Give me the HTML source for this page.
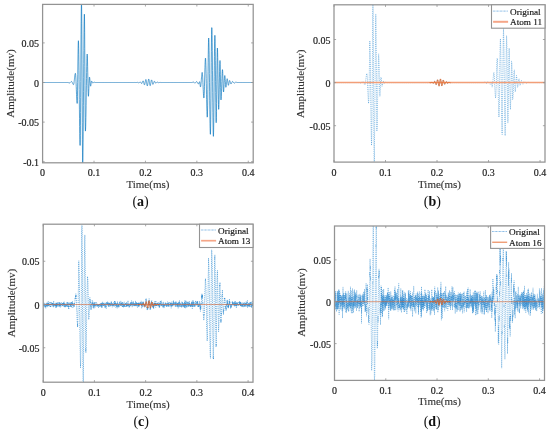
<!DOCTYPE html>
<html><head><meta charset="utf-8"><title>Figure</title>
<style>
html,body{margin:0;padding:0;background:#fff;}
body{width:550px;height:432px;overflow:hidden;}
svg{display:block;}
</style></head>
<body>
<svg width="550" height="432" viewBox="0 0 550 432" font-family="'Liberation Serif','Times New Roman',serif">
<rect width="550" height="432" fill="#fff"/>
<clipPath id="clipa"><rect x="42.6" y="4.4" width="210.60" height="158.40"/></clipPath>
<g clip-path="url(#clipa)"><path d="M42.60 82.50L42.70 82.50L42.81 82.50L42.91 82.50L43.01 82.50L43.11 82.50L43.22 82.50L43.32 82.50L43.42 82.50L43.53 82.50L43.63 82.50L43.73 82.50L43.83 82.50L43.94 82.50L44.04 82.50L44.14 82.50L44.25 82.50L44.35 82.50L44.45 82.50L44.55 82.50L44.66 82.50L44.76 82.50L44.86 82.50L44.97 82.50L45.07 82.50L45.17 82.50L45.27 82.50L45.38 82.50L45.48 82.50L45.58 82.50L45.68 82.50L45.79 82.50L45.89 82.50L45.99 82.50L46.10 82.50L46.20 82.50L46.30 82.50L46.40 82.50L46.51 82.50L46.61 82.50L46.71 82.50L46.82 82.50L46.92 82.50L47.02 82.50L47.12 82.50L47.23 82.50L47.33 82.50L47.43 82.50L47.54 82.50L47.64 82.50L47.74 82.50L47.84 82.50L47.95 82.50L48.05 82.50L48.15 82.50L48.26 82.50L48.36 82.50L48.46 82.50L48.56 82.50L48.67 82.50L48.77 82.50L48.87 82.50L48.98 82.50L49.08 82.50L49.18 82.50L49.28 82.50L49.39 82.50L49.49 82.50L49.59 82.50L49.70 82.50L49.80 82.50L49.90 82.50L50.00 82.50L50.11 82.50L50.21 82.50L50.31 82.50L50.42 82.50L50.52 82.50L50.62 82.50L50.72 82.50L50.83 82.50L50.93 82.50L51.03 82.50L51.14 82.50L51.24 82.50L51.34 82.50L51.44 82.50L51.55 82.50L51.65 82.50L51.75 82.50L51.85 82.50L51.96 82.50L52.06 82.50L52.16 82.50L52.27 82.50L52.37 82.50L52.47 82.50L52.57 82.50L52.68 82.50L52.78 82.50L52.88 82.50L52.99 82.50L53.09 82.50L53.19 82.50L53.29 82.50L53.40 82.50L53.50 82.50L53.60 82.50L53.71 82.50L53.81 82.50L53.91 82.50L54.01 82.50L54.12 82.50L54.22 82.50L54.32 82.50L54.43 82.50L54.53 82.50L54.63 82.50L54.73 82.50L54.84 82.50L54.94 82.50L55.04 82.50L55.15 82.50L55.25 82.50L55.35 82.50L55.45 82.50L55.56 82.50L55.66 82.50L55.76 82.50L55.87 82.50L55.97 82.50L56.07 82.50L56.17 82.50L56.28 82.50L56.38 82.50L56.48 82.50L56.59 82.50L56.69 82.50L56.79 82.50L56.89 82.50L57.00 82.50L57.10 82.50L57.20 82.50L57.30 82.50L57.41 82.50L57.51 82.50L57.61 82.50L57.72 82.50L57.82 82.50L57.92 82.50L58.02 82.50L58.13 82.50L58.23 82.50L58.33 82.50L58.44 82.50L58.54 82.50L58.64 82.50L58.74 82.50L58.85 82.50L58.95 82.50L59.05 82.50L59.16 82.50L59.26 82.50L59.36 82.50L59.46 82.50L59.57 82.50L59.67 82.50L59.77 82.50L59.88 82.50L59.98 82.50L60.08 82.50L60.18 82.50L60.29 82.50L60.39 82.50L60.49 82.50L60.60 82.50L60.70 82.50L60.80 82.50L60.90 82.50L61.01 82.50L61.11 82.50L61.21 82.50L61.32 82.50L61.42 82.50L61.52 82.50L61.62 82.50L61.73 82.50L61.83 82.50L61.93 82.50L62.04 82.50L62.14 82.50L62.24 82.50L62.34 82.50L62.45 82.50L62.55 82.50L62.65 82.50L62.76 82.50L62.86 82.50L62.96 82.50L63.06 82.50L63.17 82.50L63.27 82.50L63.37 82.50L63.47 82.50L63.58 82.50L63.68 82.50L63.78 82.50L63.89 82.50L63.99 82.50L64.09 82.50L64.19 82.50L64.30 82.50L64.40 82.50L64.50 82.50L64.61 82.50L64.71 82.50L64.81 82.50L64.91 82.50L65.02 82.50L65.12 82.50L65.22 82.50L65.33 82.50L65.43 82.50L65.53 82.50L65.63 82.50L65.74 82.50L65.84 82.50L65.94 82.50L66.05 82.50L66.15 82.50L66.25 82.50L66.35 82.50L66.46 82.50L66.56 82.50L66.66 82.50L66.77 82.50L66.87 82.50L66.97 82.50L67.07 82.50L67.18 82.50L67.28 82.50L67.38 82.50L67.49 82.50L67.59 82.50L67.69 82.50L67.79 82.50L67.90 82.51L68.00 82.52L68.10 82.54L68.21 82.57L68.31 82.59L68.41 82.62L68.51 82.66L68.62 82.69L68.72 82.72L68.82 82.76L68.92 82.79L69.03 82.82L69.13 82.84L69.23 82.86L69.34 82.88L69.44 82.89L69.54 82.90L69.64 82.90L69.75 82.88L69.85 82.84L69.95 82.78L70.06 82.71L70.16 82.62L70.26 82.52L70.36 82.41L70.47 82.29L70.57 82.17L70.67 82.06L70.78 81.94L70.88 81.84L70.98 81.74L71.08 81.66L71.19 81.59L71.29 81.54L71.39 81.51L71.50 81.50L71.60 81.52L71.70 81.58L71.80 81.68L71.91 81.81L72.01 81.98L72.11 82.17L72.22 82.39L72.32 82.62L72.42 82.86L72.52 83.11L72.63 83.36L72.73 83.60L72.83 83.83L72.94 84.03L73.04 84.21L73.14 84.36L73.24 84.48L73.35 84.56L73.45 84.60L73.55 84.58L73.66 84.41L73.76 84.08L73.86 83.61L73.96 83.00L74.07 82.28L74.17 81.46L74.27 80.56L74.38 79.63L74.48 78.67L74.58 77.72L74.68 76.80L74.79 75.95L74.89 75.18L74.99 74.52L75.09 73.99L75.20 73.61L75.30 73.37L75.40 73.30L75.51 73.57L75.61 74.32L75.71 75.52L75.81 77.13L75.92 79.11L76.02 81.38L76.12 83.88L76.23 86.53L76.33 89.23L76.43 91.91L76.53 94.47L76.64 96.84L76.74 98.94L76.84 100.70L76.95 102.07L77.05 102.99L77.15 103.45L77.25 103.15L77.36 100.79L77.46 96.36L77.56 90.18L77.67 82.70L77.77 74.46L77.87 66.05L77.97 58.07L78.08 51.10L78.18 45.65L78.28 42.10L78.39 40.71L78.49 41.44L78.59 44.04L78.69 48.40L78.80 54.38L78.90 61.76L79.00 70.27L79.11 79.60L79.21 89.42L79.31 99.38L79.41 109.12L79.52 118.28L79.62 126.55L79.72 133.60L79.83 139.21L79.93 143.16L80.03 145.31L80.13 145.46L80.24 142.22L80.34 135.38L80.44 125.28L80.55 112.47L80.65 97.63L80.75 81.54L80.85 65.05L80.96 49.04L81.06 34.37L81.16 21.80L81.26 12.00L81.37 5.49L81.47 2.63L81.57 4.10L81.68 11.20L81.78 23.47L81.88 40.02L81.98 59.68L82.09 81.01L82.19 102.49L82.29 122.56L82.40 139.78L82.50 152.92L82.60 161.01L82.70 163.49L82.81 161.95L82.91 157.76L83.01 151.10L83.12 142.18L83.22 131.34L83.32 118.96L83.42 105.49L83.53 91.42L83.63 77.25L83.73 63.49L83.84 50.64L83.94 39.16L84.04 29.47L84.14 21.91L84.25 16.75L84.35 14.18L84.45 14.80L84.56 21.04L84.66 32.61L84.76 48.31L84.86 66.52L84.97 85.36L85.07 102.87L85.17 117.24L85.28 126.99L85.38 131.10L85.48 130.78L85.58 129.16L85.69 126.36L85.79 122.48L85.89 117.64L86.00 111.99L86.10 105.72L86.20 99.03L86.30 92.13L86.41 85.25L86.51 78.60L86.61 72.40L86.71 66.85L86.82 62.13L86.92 58.39L87.02 55.75L87.13 54.29L87.23 54.08L87.33 55.32L87.43 57.99L87.54 61.91L87.64 66.78L87.74 72.25L87.85 77.95L87.95 83.44L88.05 88.34L88.15 92.29L88.26 95.01L88.36 96.30L88.46 96.23L88.57 95.29L88.67 93.63L88.77 91.37L88.87 88.72L88.98 85.90L89.08 83.15L89.18 80.72L89.29 78.79L89.39 77.55L89.49 77.10L89.59 77.28L89.70 77.83L89.80 78.71L89.90 79.84L90.01 81.12L90.11 82.45L90.21 83.71L90.31 84.80L90.42 85.62L90.52 86.09L90.62 86.19L90.73 85.99L90.83 85.55L90.93 84.91L91.03 84.15L91.14 83.33L91.24 82.54L91.34 81.87L91.45 81.38L91.55 81.13L91.65 81.11L91.75 81.18L91.86 81.32L91.96 81.52L92.06 81.76L92.17 82.02L92.27 82.29L92.37 82.54L92.47 82.76L92.58 82.94L92.68 83.05L92.78 83.10L92.88 83.09L92.99 83.05L93.09 82.99L93.19 82.91L93.30 82.81L93.40 82.70L93.50 82.59L93.60 82.48L93.71 82.38L93.81 82.30L93.91 82.24L94.02 82.21L94.12 82.20L94.22 82.21L94.32 82.22L94.43 82.25L94.53 82.28L94.63 82.31L94.74 82.35L94.84 82.38L94.94 82.42L95.04 82.45L95.15 82.47L95.25 82.49L95.35 82.50L95.46 82.50L95.56 82.50L95.66 82.50L95.76 82.50L95.87 82.50L95.97 82.50L96.07 82.50L96.18 82.50L96.28 82.50L96.38 82.50L96.48 82.50L96.59 82.50L96.69 82.50L96.79 82.50L96.90 82.50L97.00 82.50L97.10 82.50L97.20 82.50L97.31 82.50L97.41 82.50L97.51 82.50L97.62 82.50L97.72 82.50L97.82 82.50L97.92 82.50L98.03 82.50L98.13 82.50L98.23 82.50L98.33 82.50L98.44 82.50L98.54 82.50L98.64 82.50L98.75 82.50L98.85 82.50L98.95 82.50L99.05 82.50L99.16 82.50L99.26 82.50L99.36 82.50L99.47 82.50L99.57 82.50L99.67 82.50L99.77 82.50L99.88 82.50L99.98 82.50L100.08 82.50L100.19 82.50L100.29 82.50L100.39 82.50L100.49 82.50L100.60 82.50L100.70 82.50L100.80 82.50L100.91 82.50L101.01 82.50L101.11 82.50L101.21 82.50L101.32 82.50L101.42 82.50L101.52 82.50L101.63 82.50L101.73 82.50L101.83 82.50L101.93 82.50L102.04 82.50L102.14 82.50L102.24 82.50L102.35 82.50L102.45 82.50L102.55 82.50L102.65 82.50L102.76 82.50L102.86 82.50L102.96 82.50L103.07 82.50L103.17 82.50L103.27 82.50L103.37 82.50L103.48 82.50L103.58 82.50L103.68 82.50L103.79 82.50L103.89 82.50L103.99 82.50L104.09 82.50L104.20 82.50L104.30 82.50L104.40 82.50L104.50 82.50L104.61 82.50L104.71 82.50L104.81 82.50L104.92 82.50L105.02 82.50L105.12 82.50L105.22 82.50L105.33 82.50L105.43 82.50L105.53 82.50L105.64 82.50L105.74 82.50L105.84 82.50L105.94 82.50L106.05 82.50L106.15 82.50L106.25 82.50L106.36 82.50L106.46 82.50L106.56 82.50L106.66 82.50L106.77 82.50L106.87 82.50L106.97 82.50L107.08 82.50L107.18 82.50L107.28 82.50L107.38 82.50L107.49 82.50L107.59 82.50L107.69 82.50L107.80 82.50L107.90 82.50L108.00 82.50L108.10 82.50L108.21 82.50L108.31 82.50L108.41 82.50L108.52 82.50L108.62 82.50L108.72 82.50L108.82 82.50L108.93 82.50L109.03 82.50L109.13 82.50L109.24 82.50L109.34 82.50L109.44 82.50L109.54 82.50L109.65 82.50L109.75 82.50L109.85 82.50L109.95 82.50L110.06 82.50L110.16 82.50L110.26 82.50L110.37 82.50L110.47 82.50L110.57 82.50L110.67 82.50L110.78 82.50L110.88 82.50L110.98 82.50L111.09 82.50L111.19 82.50L111.29 82.50L111.39 82.50L111.50 82.50L111.60 82.50L111.70 82.50L111.81 82.50L111.91 82.50L112.01 82.50L112.11 82.50L112.22 82.50L112.32 82.50L112.42 82.50L112.53 82.50L112.63 82.50L112.73 82.50L112.83 82.50L112.94 82.50L113.04 82.50L113.14 82.50L113.25 82.50L113.35 82.50L113.45 82.50L113.55 82.50L113.66 82.50L113.76 82.50L113.86 82.50L113.97 82.50L114.07 82.50L114.17 82.50L114.27 82.50L114.38 82.50L114.48 82.50L114.58 82.50L114.69 82.50L114.79 82.50L114.89 82.50L114.99 82.50L115.10 82.50L115.20 82.50L115.30 82.50L115.41 82.50L115.51 82.50L115.61 82.50L115.71 82.50L115.82 82.50L115.92 82.50L116.02 82.50L116.12 82.50L116.23 82.50L116.33 82.50L116.43 82.50L116.54 82.50L116.64 82.50L116.74 82.50L116.84 82.50L116.95 82.50L117.05 82.50L117.15 82.50L117.26 82.50L117.36 82.50L117.46 82.50L117.56 82.50L117.67 82.50L117.77 82.50L117.87 82.50L117.98 82.50L118.08 82.50L118.18 82.50L118.28 82.50L118.39 82.50L118.49 82.50L118.59 82.50L118.70 82.50L118.80 82.50L118.90 82.50L119.00 82.50L119.11 82.50L119.21 82.50L119.31 82.50L119.42 82.50L119.52 82.50L119.62 82.50L119.72 82.50L119.83 82.50L119.93 82.50L120.03 82.50L120.14 82.50L120.24 82.50L120.34 82.50L120.44 82.50L120.55 82.50L120.65 82.50L120.75 82.50L120.86 82.50L120.96 82.50L121.06 82.50L121.16 82.50L121.27 82.50L121.37 82.50L121.47 82.50L121.57 82.50L121.68 82.50L121.78 82.50L121.88 82.50L121.99 82.50L122.09 82.50L122.19 82.50L122.29 82.50L122.40 82.50L122.50 82.50L122.60 82.50L122.71 82.50L122.81 82.50L122.91 82.50L123.01 82.50L123.12 82.50L123.22 82.50L123.32 82.50L123.43 82.50L123.53 82.50L123.63 82.50L123.73 82.50L123.84 82.50L123.94 82.50L124.04 82.50L124.15 82.50L124.25 82.50L124.35 82.50L124.45 82.50L124.56 82.50L124.66 82.50L124.76 82.50L124.87 82.50L124.97 82.50L125.07 82.50L125.17 82.50L125.28 82.50L125.38 82.50L125.48 82.50L125.59 82.50L125.69 82.50L125.79 82.50L125.89 82.50L126.00 82.50L126.10 82.50L126.20 82.50L126.31 82.50L126.41 82.50L126.51 82.50L126.61 82.50L126.72 82.50L126.82 82.50L126.92 82.50L127.03 82.50L127.13 82.50L127.23 82.50L127.33 82.50L127.44 82.50L127.54 82.50L127.64 82.50L127.74 82.50L127.85 82.50L127.95 82.50L128.05 82.50L128.16 82.50L128.26 82.50L128.36 82.50L128.46 82.50L128.57 82.50L128.67 82.50L128.77 82.50L128.88 82.50L128.98 82.50L129.08 82.50L129.18 82.50L129.29 82.50L129.39 82.50L129.49 82.50L129.60 82.50L129.70 82.50L129.80 82.50L129.90 82.50L130.01 82.50L130.11 82.50L130.21 82.50L130.32 82.50L130.42 82.50L130.52 82.50L130.62 82.50L130.73 82.50L130.83 82.50L130.93 82.50L131.04 82.50L131.14 82.50L131.24 82.50L131.34 82.50L131.45 82.50L131.55 82.50L131.65 82.50L131.76 82.50L131.86 82.50L131.96 82.50L132.06 82.50L132.17 82.50L132.27 82.50L132.37 82.50L132.48 82.50L132.58 82.50L132.68 82.50L132.78 82.50L132.89 82.50L132.99 82.51L133.09 82.51L133.20 82.51L133.30 82.50L133.40 82.50L133.50 82.50L133.61 82.50L133.71 82.50L133.81 82.50L133.91 82.49L134.02 82.49L134.12 82.49L134.22 82.49L134.33 82.48L134.43 82.48L134.53 82.48L134.63 82.48L134.74 82.48L134.84 82.49L134.94 82.49L135.05 82.50L135.15 82.50L135.25 82.51L135.35 82.52L135.46 82.52L135.56 82.53L135.66 82.54L135.77 82.54L135.87 82.55L135.97 82.55L136.07 82.55L136.18 82.54L136.28 82.53L136.38 82.52L136.49 82.51L136.59 82.49L136.69 82.47L136.79 82.45L136.90 82.43L137.00 82.42L137.10 82.40L137.21 82.39L137.31 82.38L137.41 82.38L137.51 82.38L137.62 82.39L137.72 82.42L137.82 82.44L137.93 82.48L138.03 82.52L138.13 82.56L138.23 82.61L138.34 82.66L138.44 82.70L138.54 82.74L138.65 82.76L138.75 82.78L138.85 82.78L138.95 82.76L139.06 82.73L139.16 82.68L139.26 82.62L139.36 82.54L139.47 82.45L139.57 82.36L139.67 82.26L139.78 82.17L139.88 82.08L139.98 82.01L140.08 81.96L140.19 81.94L140.29 81.94L140.39 81.98L140.50 82.05L140.60 82.15L140.70 82.27L140.80 82.43L140.91 82.60L141.01 82.78L141.11 82.96L141.22 83.13L141.32 83.28L141.42 83.40L141.52 83.48L141.63 83.51L141.73 83.49L141.83 83.42L141.94 83.29L142.04 83.11L142.14 82.88L142.24 82.61L142.35 82.32L142.45 82.02L142.55 81.72L142.66 81.45L142.76 81.21L142.86 81.03L142.96 80.91L143.07 80.88L143.17 80.92L143.27 81.06L143.38 81.28L143.48 81.57L143.58 81.94L143.68 82.35L143.79 82.79L143.89 83.24L143.99 83.68L144.10 84.07L144.20 84.40L144.30 84.65L144.40 84.79L144.51 84.82L144.61 84.73L144.71 84.52L144.82 84.19L144.92 83.76L145.02 83.25L145.12 82.68L145.23 82.08L145.33 81.48L145.43 80.91L145.53 80.40L145.64 79.99L145.74 79.70L145.84 79.54L145.95 79.54L146.05 79.68L146.15 79.98L146.25 80.41L146.36 80.97L146.46 81.61L146.56 82.31L146.67 83.04L146.77 83.76L146.87 84.42L146.97 84.99L147.08 85.44L147.18 85.75L147.28 85.90L147.39 85.87L147.49 85.67L147.59 85.30L147.69 84.79L147.80 84.16L147.90 83.44L148.00 82.66L148.11 81.88L148.21 81.13L148.31 80.44L148.41 79.86L148.52 79.42L148.62 79.13L148.72 79.02L148.83 79.09L148.93 79.32L149.03 79.72L149.13 80.26L149.24 80.90L149.34 81.62L149.44 82.38L149.55 83.13L149.65 83.84L149.75 84.47L149.85 84.99L149.96 85.37L150.06 85.60L150.16 85.67L150.27 85.58L150.37 85.34L150.47 84.95L150.57 84.45L150.68 83.87L150.78 83.23L150.88 82.58L150.98 81.93L151.09 81.34L151.19 80.82L151.29 80.41L151.40 80.11L151.50 79.95L151.60 79.92L151.70 80.02L151.81 80.24L151.91 80.57L152.01 80.98L152.12 81.45L152.22 81.96L152.32 82.46L152.42 82.95L152.53 83.40L152.63 83.77L152.73 84.07L152.84 84.27L152.94 84.37L153.04 84.37L153.14 84.28L153.25 84.10L153.35 83.85L153.45 83.55L153.56 83.21L153.66 82.86L153.76 82.51L153.86 82.18L153.97 81.88L154.07 81.64L154.17 81.46L154.28 81.33L154.38 81.28L154.48 81.29L154.58 81.36L154.69 81.49L154.79 81.65L154.89 81.85L155.00 82.07L155.10 82.29L155.20 82.50L155.30 82.70L155.41 82.88L155.51 83.02L155.61 83.12L155.72 83.18L155.82 83.21L155.92 83.19L156.02 83.15L156.13 83.07L156.23 82.97L156.33 82.86L156.44 82.73L156.54 82.61L156.64 82.49L156.74 82.39L156.85 82.29L156.95 82.22L157.05 82.17L157.15 82.14L157.26 82.13L157.36 82.14L157.46 82.17L157.57 82.21L157.67 82.27L157.77 82.33L157.87 82.39L157.98 82.45L158.08 82.51L158.18 82.56L158.29 82.60L158.39 82.63L158.49 82.66L158.59 82.67L158.70 82.67L158.80 82.66L158.90 82.65L159.01 82.63L159.11 82.60L159.21 82.58L159.31 82.55L159.42 82.52L159.52 82.50L159.62 82.47L159.73 82.46L159.83 82.44L159.93 82.43L160.03 82.43L160.14 82.43L160.24 82.43L160.34 82.44L160.45 82.45L160.55 82.46L160.65 82.47L160.75 82.48L160.86 82.49L160.96 82.50L161.06 82.51L161.17 82.52L161.27 82.52L161.37 82.52L161.47 82.53L161.58 82.53L161.68 82.52L161.78 82.52L161.89 82.52L161.99 82.51L162.09 82.51L162.19 82.51L162.30 82.50L162.40 82.50L162.50 82.50L162.60 82.49L162.71 82.49L162.81 82.49L162.91 82.49L163.02 82.49L163.12 82.49L163.22 82.49L163.32 82.49L163.43 82.50L163.53 82.50L163.63 82.50L163.74 82.50L163.84 82.50L163.94 82.50L164.04 82.50L164.15 82.50L164.25 82.50L164.35 82.50L164.46 82.50L164.56 82.50L164.66 82.50L164.76 82.50L164.87 82.50L164.97 82.50L165.07 82.50L165.18 82.50L165.28 82.50L165.38 82.50L165.48 82.50L165.59 82.50L165.69 82.50L165.79 82.50L165.90 82.50L166.00 82.50L166.10 82.50L166.20 82.50L166.31 82.50L166.41 82.50L166.51 82.50L166.62 82.50L166.72 82.50L166.82 82.50L166.92 82.50L167.03 82.50L167.13 82.50L167.23 82.50L167.34 82.50L167.44 82.50L167.54 82.50L167.64 82.50L167.75 82.50L167.85 82.50L167.95 82.50L168.06 82.50L168.16 82.50L168.26 82.50L168.36 82.50L168.47 82.50L168.57 82.50L168.67 82.50L168.77 82.50L168.88 82.50L168.98 82.50L169.08 82.50L169.19 82.50L169.29 82.50L169.39 82.50L169.49 82.50L169.60 82.50L169.70 82.50L169.80 82.50L169.91 82.50L170.01 82.50L170.11 82.50L170.21 82.50L170.32 82.50L170.42 82.50L170.52 82.50L170.63 82.50L170.73 82.50L170.83 82.50L170.93 82.50L171.04 82.50L171.14 82.50L171.24 82.50L171.35 82.50L171.45 82.50L171.55 82.50L171.65 82.50L171.76 82.50L171.86 82.50L171.96 82.50L172.07 82.50L172.17 82.50L172.27 82.50L172.37 82.50L172.48 82.50L172.58 82.50L172.68 82.50L172.79 82.50L172.89 82.50L172.99 82.50L173.09 82.50L173.20 82.50L173.30 82.50L173.40 82.50L173.51 82.50L173.61 82.50L173.71 82.50L173.81 82.50L173.92 82.50L174.02 82.50L174.12 82.50L174.22 82.50L174.33 82.50L174.43 82.50L174.53 82.50L174.64 82.50L174.74 82.50L174.84 82.50L174.94 82.50L175.05 82.50L175.15 82.50L175.25 82.50L175.36 82.50L175.46 82.50L175.56 82.50L175.66 82.50L175.77 82.50L175.87 82.50L175.97 82.50L176.08 82.50L176.18 82.50L176.28 82.50L176.38 82.50L176.49 82.50L176.59 82.50L176.69 82.50L176.80 82.50L176.90 82.50L177.00 82.50L177.10 82.50L177.21 82.50L177.31 82.50L177.41 82.50L177.52 82.50L177.62 82.50L177.72 82.50L177.82 82.50L177.93 82.50L178.03 82.50L178.13 82.50L178.24 82.50L178.34 82.50L178.44 82.50L178.54 82.50L178.65 82.50L178.75 82.50L178.85 82.50L178.96 82.50L179.06 82.50L179.16 82.50L179.26 82.50L179.37 82.50L179.47 82.50L179.57 82.50L179.68 82.50L179.78 82.50L179.88 82.50L179.98 82.50L180.09 82.50L180.19 82.50L180.29 82.50L180.39 82.50L180.50 82.50L180.60 82.50L180.70 82.50L180.81 82.50L180.91 82.50L181.01 82.50L181.11 82.50L181.22 82.50L181.32 82.50L181.42 82.50L181.53 82.50L181.63 82.50L181.73 82.50L181.83 82.50L181.94 82.50L182.04 82.50L182.14 82.50L182.25 82.50L182.35 82.50L182.45 82.50L182.55 82.50L182.66 82.50L182.76 82.50L182.86 82.50L182.97 82.50L183.07 82.50L183.17 82.50L183.27 82.50L183.38 82.50L183.48 82.50L183.58 82.50L183.69 82.50L183.79 82.50L183.89 82.50L183.99 82.50L184.10 82.50L184.20 82.50L184.30 82.50L184.41 82.50L184.51 82.50L184.61 82.50L184.71 82.50L184.82 82.50L184.92 82.50L185.02 82.50L185.13 82.50L185.23 82.50L185.33 82.50L185.43 82.50L185.54 82.50L185.64 82.50L185.74 82.50L185.85 82.50L185.95 82.50L186.05 82.50L186.15 82.50L186.26 82.50L186.36 82.50L186.46 82.50L186.56 82.50L186.67 82.50L186.77 82.50L186.87 82.50L186.98 82.50L187.08 82.50L187.18 82.50L187.28 82.50L187.39 82.50L187.49 82.50L187.59 82.50L187.70 82.50L187.80 82.50L187.90 82.50L188.00 82.50L188.11 82.50L188.21 82.50L188.31 82.50L188.42 82.50L188.52 82.50L188.62 82.50L188.72 82.50L188.83 82.50L188.93 82.50L189.03 82.50L189.14 82.50L189.24 82.50L189.34 82.50L189.44 82.50L189.55 82.50L189.65 82.50L189.75 82.50L189.86 82.50L189.96 82.50L190.06 82.50L190.16 82.50L190.27 82.50L190.37 82.50L190.47 82.50L190.58 82.50L190.68 82.50L190.78 82.50L190.88 82.50L190.99 82.50L191.09 82.50L191.19 82.50L191.30 82.50L191.40 82.50L191.50 82.50L191.60 82.50L191.71 82.50L191.81 82.50L191.91 82.49L192.01 82.48L192.12 82.46L192.22 82.43L192.32 82.40L192.43 82.36L192.53 82.32L192.63 82.28L192.73 82.24L192.84 82.21L192.94 82.17L193.04 82.14L193.15 82.12L193.25 82.11L193.35 82.10L193.45 82.10L193.56 82.13L193.66 82.17L193.76 82.23L193.87 82.30L193.97 82.39L194.07 82.49L194.17 82.59L194.28 82.69L194.38 82.78L194.48 82.87L194.59 82.95L194.69 83.02L194.79 83.06L194.89 83.09L195.00 83.10L195.10 83.08L195.20 83.04L195.31 82.97L195.41 82.88L195.51 82.78L195.61 82.65L195.72 82.52L195.82 82.38L195.92 82.23L196.03 82.10L196.13 81.97L196.23 81.85L196.33 81.76L196.44 81.68L196.54 81.63L196.64 81.60L196.75 81.61L196.85 81.65L196.95 81.72L197.05 81.84L197.16 81.98L197.26 82.15L197.36 82.34L197.47 82.54L197.57 82.76L197.67 82.97L197.77 83.18L197.88 83.38L197.98 83.56L198.08 83.71L198.18 83.84L198.29 83.93L198.39 83.98L198.49 84.00L198.60 83.95L198.70 83.80L198.80 83.57L198.90 83.28L199.01 82.95L199.11 82.61L199.21 82.30L199.32 82.03L199.42 81.83L199.52 81.72L199.62 81.72L199.73 82.00L199.83 82.58L199.93 83.37L200.04 84.28L200.14 85.20L200.24 86.00L200.34 86.58L200.45 86.87L200.55 86.85L200.65 86.57L200.76 86.03L200.86 85.26L200.96 84.30L201.06 83.16L201.17 81.90L201.27 80.56L201.37 79.18L201.48 77.82L201.58 76.53L201.68 75.35L201.78 74.33L201.89 73.49L201.99 72.88L202.09 72.51L202.20 72.40L202.30 72.67L202.40 73.38L202.50 74.52L202.61 76.05L202.71 77.91L202.81 80.02L202.92 82.33L203.02 84.74L203.12 87.16L203.22 89.52L203.33 91.71L203.43 93.68L203.53 95.34L203.63 96.63L203.74 97.51L203.84 97.95L203.94 97.88L204.05 97.04L204.15 95.42L204.25 93.11L204.35 90.17L204.46 86.75L204.56 82.97L204.66 79.00L204.77 74.98L204.87 71.09L204.97 67.48L205.07 64.30L205.18 61.68L205.28 59.73L205.38 58.52L205.49 58.10L205.59 58.56L205.69 59.96L205.79 62.25L205.90 65.36L206.00 69.18L206.10 73.60L206.21 78.48L206.31 83.65L206.41 88.95L206.51 94.21L206.62 99.26L206.72 103.94L206.82 108.09L206.93 111.60L207.03 114.33L207.13 116.21L207.23 117.17L207.34 117.05L207.44 115.00L207.54 110.97L207.65 105.17L207.75 97.91L207.85 89.57L207.95 80.61L208.06 71.49L208.16 62.69L208.26 54.69L208.37 47.90L208.47 42.70L208.57 39.34L208.67 38.02L208.78 38.66L208.88 41.01L208.98 45.00L209.09 50.47L209.19 57.23L209.29 65.03L209.39 73.60L209.50 82.63L209.60 91.78L209.70 100.74L209.80 109.17L209.91 116.78L210.01 123.29L210.11 128.46L210.22 132.12L210.32 134.12L210.42 134.34L210.52 131.97L210.63 126.89L210.73 119.39L210.83 109.84L210.94 98.77L211.04 86.76L211.14 74.44L211.24 62.47L211.35 51.48L211.45 42.06L211.55 34.70L211.66 29.80L211.76 27.61L211.86 28.08L211.96 30.77L212.07 35.54L212.17 42.20L212.27 50.47L212.38 60.02L212.48 70.46L212.58 81.36L212.68 92.30L212.79 102.81L212.89 112.47L212.99 120.89L213.10 127.73L213.20 132.72L213.30 135.63L213.40 136.37L213.51 134.81L213.61 130.98L213.71 125.06L213.82 117.33L213.92 108.13L214.02 97.91L214.12 87.12L214.23 76.26L214.33 65.85L214.43 56.35L214.54 48.22L214.64 41.82L214.74 37.44L214.84 35.31L214.95 35.56L215.05 38.44L215.15 43.81L215.25 51.34L215.36 60.56L215.46 70.90L215.56 81.74L215.67 92.41L215.77 102.24L215.87 110.64L215.97 117.09L216.08 121.19L216.18 122.70L216.28 121.51L216.39 117.72L216.49 111.59L216.59 103.58L216.69 94.25L216.80 84.28L216.90 74.39L217.00 65.28L217.11 57.63L217.21 51.97L217.31 48.71L217.41 48.07L217.52 49.52L217.62 52.77L217.72 57.62L217.83 63.76L217.93 70.83L218.03 78.38L218.13 85.96L218.24 93.09L218.34 99.34L218.44 104.32L218.55 107.74L218.65 109.37L218.75 109.20L218.85 107.51L218.96 104.45L219.06 100.18L219.16 94.99L219.27 89.18L219.37 83.11L219.47 77.16L219.57 71.69L219.68 67.04L219.78 63.49L219.88 61.27L219.99 60.50L220.09 61.50L220.19 64.44L220.29 69.02L220.40 74.76L220.50 81.07L220.60 87.29L220.71 92.79L220.81 96.98L220.91 99.45L221.01 99.97L221.12 99.44L221.22 98.22L221.32 96.39L221.42 94.02L221.53 91.23L221.63 88.13L221.73 84.89L221.84 81.64L221.94 78.53L222.04 75.72L222.14 73.32L222.25 71.46L222.35 70.21L222.45 69.64L222.56 69.87L222.66 71.21L222.76 73.54L222.86 76.63L222.97 80.14L223.07 83.73L223.17 87.01L223.28 89.65L223.38 91.37L223.48 92.00L223.58 91.77L223.69 91.04L223.79 89.87L223.89 88.32L224.00 86.49L224.10 84.49L224.20 82.45L224.30 80.49L224.41 78.72L224.51 77.27L224.61 76.21L224.72 75.62L224.82 75.53L224.92 75.94L225.02 76.81L225.13 78.08L225.23 79.64L225.33 81.34L225.44 83.05L225.54 84.62L225.64 85.92L225.74 86.82L225.85 87.26L225.95 87.25L226.05 86.96L226.16 86.42L226.26 85.67L226.36 84.76L226.46 83.75L226.57 82.68L226.67 81.64L226.77 80.67L226.88 79.86L226.98 79.23L227.08 78.84L227.18 78.70L227.29 78.81L227.39 79.16L227.49 79.71L227.59 80.42L227.70 81.25L227.80 82.13L227.90 83.00L228.01 83.80L228.11 84.47L228.21 84.96L228.31 85.24L228.42 85.29L228.52 85.15L228.62 84.85L228.73 84.41L228.83 83.86L228.93 83.24L229.03 82.59L229.14 81.97L229.24 81.42L229.34 80.97L229.45 80.66L229.55 80.51L229.65 80.52L229.75 80.62L229.86 80.81L229.96 81.07L230.06 81.39L230.17 81.75L230.27 82.14L230.37 82.53L230.47 82.90L230.58 83.23L230.68 83.52L230.78 83.73L230.89 83.86L230.99 83.90L231.09 83.87L231.19 83.80L231.30 83.68L231.40 83.52L231.50 83.33L231.61 83.12L231.71 82.88L231.81 82.64L231.91 82.40L232.02 82.17L232.12 81.97L232.22 81.79L232.33 81.65L232.43 81.56L232.53 81.51L232.63 81.50L232.74 81.53L232.84 81.60L232.94 81.69L233.04 81.80L233.15 81.94L233.25 82.09L233.35 82.25L233.46 82.41L233.56 82.57L233.66 82.71L233.76 82.84L233.87 82.95L233.97 83.03L234.07 83.08L234.18 83.10L234.28 83.09L234.38 83.07L234.48 83.02L234.59 82.97L234.69 82.90L234.79 82.82L234.90 82.73L235.00 82.64L235.10 82.55L235.20 82.46L235.31 82.38L235.41 82.32L235.51 82.26L235.62 82.22L235.72 82.20L235.82 82.20L235.92 82.21L236.03 82.22L236.13 82.23L236.23 82.25L236.34 82.28L236.44 82.31L236.54 82.34L236.64 82.37L236.75 82.40L236.85 82.42L236.95 82.45L237.06 82.47L237.16 82.49L237.26 82.50L237.36 82.50L237.47 82.50L237.57 82.50L237.67 82.50L237.78 82.50L237.88 82.50L237.98 82.50L238.08 82.50L238.19 82.50L238.29 82.50L238.39 82.50L238.50 82.50L238.60 82.50L238.70 82.50L238.80 82.50L238.91 82.50L239.01 82.50L239.11 82.50L239.21 82.50L239.32 82.50L239.42 82.50L239.52 82.50L239.63 82.50L239.73 82.50L239.83 82.50L239.93 82.50L240.04 82.50L240.14 82.50L240.24 82.50L240.35 82.50L240.45 82.50L240.55 82.50L240.65 82.50L240.76 82.50L240.86 82.50L240.96 82.50L241.07 82.50L241.17 82.50L241.27 82.50L241.37 82.50L241.48 82.50L241.58 82.50L241.68 82.50L241.79 82.50L241.89 82.50L241.99 82.50L242.09 82.50L242.20 82.50L242.30 82.50L242.40 82.50L242.51 82.50L242.61 82.50L242.71 82.50L242.81 82.50L242.92 82.50L243.02 82.50L243.12 82.50L243.23 82.50L243.33 82.50L243.43 82.50L243.53 82.50L243.64 82.50L243.74 82.50L243.84 82.50L243.95 82.50L244.05 82.50L244.15 82.50L244.25 82.50L244.36 82.50L244.46 82.50L244.56 82.50L244.66 82.50L244.77 82.50L244.87 82.50L244.97 82.50L245.08 82.50L245.18 82.50L245.28 82.50L245.38 82.50L245.49 82.50L245.59 82.50L245.69 82.50L245.80 82.50L245.90 82.50L246.00 82.50L246.10 82.50L246.21 82.50L246.31 82.50L246.41 82.50L246.52 82.50L246.62 82.50L246.72 82.50L246.82 82.50L246.93 82.50L247.03 82.50L247.13 82.50L247.24 82.50L247.34 82.50L247.44 82.50L247.54 82.50L247.65 82.50L247.75 82.50L247.85 82.50L247.96 82.50L248.06 82.50L248.16 82.50L248.26 82.50L248.37 82.50L248.47 82.50L248.57 82.50L248.68 82.50L248.78 82.50L248.88 82.50L248.98 82.50L249.09 82.50L249.19 82.50L249.29 82.50L249.40 82.50L249.50 82.50L249.60 82.50L249.70 82.50L249.81 82.50L249.91 82.50L250.01 82.50L250.12 82.50L250.22 82.50L250.32 82.50L250.42 82.50L250.53 82.50L250.63 82.50L250.73 82.50L250.83 82.50L250.94 82.50L251.04 82.50L251.14 82.50L251.25 82.50L251.35 82.50L251.45 82.50L251.55 82.50L251.66 82.50L251.76 82.50L251.86 82.50L251.97 82.50L252.07 82.50L252.17 82.50L252.27 82.50L252.38 82.50L252.48 82.50L252.58 82.50L252.69 82.50L252.79 82.50L252.89 82.50L252.99 82.50L253.10 82.50" fill="none" stroke="#0072BD" stroke-opacity="0.72" stroke-width="0.9"/></g>
<rect x="42.6" y="4.4" width="210.60" height="158.40" fill="none" stroke="#939393" stroke-width="1.25"/>
<path d="M42.60 162.8V160.70000000000002M42.60 4.4V6.5" stroke="#939393" stroke-width="0.8"/>
<text x="42.60" y="176.30" text-anchor="middle" font-size="10" fill="#1e1e1e" stroke="#1e1e1e" stroke-width="0.18">0</text>
<path d="M94.02 162.8V160.70000000000002M94.02 4.4V6.5" stroke="#939393" stroke-width="0.8"/>
<text x="94.02" y="176.30" text-anchor="middle" font-size="10" fill="#1e1e1e" stroke="#1e1e1e" stroke-width="0.18">0.1</text>
<path d="M145.43 162.8V160.70000000000002M145.43 4.4V6.5" stroke="#939393" stroke-width="0.8"/>
<text x="145.43" y="176.30" text-anchor="middle" font-size="10" fill="#1e1e1e" stroke="#1e1e1e" stroke-width="0.18">0.2</text>
<path d="M196.85 162.8V160.70000000000002M196.85 4.4V6.5" stroke="#939393" stroke-width="0.8"/>
<text x="196.85" y="176.30" text-anchor="middle" font-size="10" fill="#1e1e1e" stroke="#1e1e1e" stroke-width="0.18">0.3</text>
<path d="M248.26 162.8V160.70000000000002M248.26 4.4V6.5" stroke="#939393" stroke-width="0.8"/>
<text x="248.26" y="176.30" text-anchor="middle" font-size="10" fill="#1e1e1e" stroke="#1e1e1e" stroke-width="0.18">0.4</text>
<path d="M42.6 161.70H44.7M253.2 161.70H251.1" stroke="#939393" stroke-width="0.8"/>
<text x="39.00" y="165.80" text-anchor="end" font-size="10" fill="#1e1e1e" stroke="#1e1e1e" stroke-width="0.18">-0.1</text>
<path d="M42.6 122.10H44.7M253.2 122.10H251.1" stroke="#939393" stroke-width="0.8"/>
<text x="39.00" y="126.20" text-anchor="end" font-size="10" fill="#1e1e1e" stroke="#1e1e1e" stroke-width="0.18">-0.05</text>
<path d="M42.6 82.50H44.7M253.2 82.50H251.1" stroke="#939393" stroke-width="0.8"/>
<text x="39.00" y="86.60" text-anchor="end" font-size="10" fill="#1e1e1e" stroke="#1e1e1e" stroke-width="0.18">0</text>
<path d="M42.6 42.90H44.7M253.2 42.90H251.1" stroke="#939393" stroke-width="0.8"/>
<text x="39.00" y="47.00" text-anchor="end" font-size="10" fill="#1e1e1e" stroke="#1e1e1e" stroke-width="0.18">0.05</text>
<text x="147.90" y="188.20" text-anchor="middle" font-size="11" fill="#333" stroke="#333" stroke-width="0.12">Time(ms)</text>
<text transform="translate(13.70 83.60) rotate(-90)" text-anchor="middle" font-size="11" fill="#333" stroke="#333" stroke-width="0.12">Amplitude(mv)</text>
<clipPath id="clipb"><rect x="334.0" y="4.8" width="211.00" height="157.30"/></clipPath>
<g clip-path="url(#clipb)"><path d="M334.00 82.60L334.21 82.60L334.41 82.60L334.62 82.60L334.82 82.60L335.03 82.60L335.24 82.60L335.44 82.60L335.65 82.60L335.85 82.60L336.06 82.60L336.27 82.60L336.47 82.60L336.68 82.60L336.88 82.60L337.09 82.60L337.30 82.60L337.50 82.60L337.71 82.60L337.92 82.60L338.12 82.60L338.33 82.60L338.53 82.60L338.74 82.60L338.95 82.60L339.15 82.60L339.36 82.60L339.56 82.60L339.77 82.60L339.98 82.60L340.18 82.60L340.39 82.60L340.59 82.60L340.80 82.60L341.01 82.60L341.21 82.60L341.42 82.60L341.62 82.60L341.83 82.60L342.04 82.60L342.24 82.60L342.45 82.60L342.65 82.60L342.86 82.60L343.07 82.60L343.27 82.60L343.48 82.60L343.68 82.60L343.89 82.60L344.10 82.60L344.30 82.60L344.51 82.60L344.71 82.60L344.92 82.60L345.13 82.60L345.33 82.60L345.54 82.60L345.75 82.60L345.95 82.60L346.16 82.60L346.36 82.60L346.57 82.60L346.78 82.60L346.98 82.60L347.19 82.60L347.39 82.60L347.60 82.60L347.81 82.60L348.01 82.60L348.22 82.60L348.42 82.60L348.63 82.60L348.84 82.60L349.04 82.60L349.25 82.60L349.45 82.60L349.66 82.60L349.87 82.60L350.07 82.60L350.28 82.60L350.48 82.60L350.69 82.60L350.90 82.60L351.10 82.60L351.31 82.60L351.51 82.60L351.72 82.60L351.93 82.60L352.13 82.60L352.34 82.60L352.54 82.60L352.75 82.60L352.96 82.60L353.16 82.60L353.37 82.60L353.58 82.60L353.78 82.60L353.99 82.60L354.19 82.60L354.40 82.60L354.61 82.60L354.81 82.60L355.02 82.60L355.22 82.60L355.43 82.60L355.64 82.60L355.84 82.60L356.05 82.60L356.25 82.60L356.46 82.60L356.67 82.60L356.87 82.60L357.08 82.60L357.28 82.60L357.49 82.60L357.70 82.60L357.90 82.60L358.11 82.60L358.31 82.60L358.52 82.60L358.73 82.60L358.93 82.60L359.14 82.60L359.34 82.61L359.55 82.64L359.76 82.69L359.96 82.76L360.17 82.82L360.38 82.89L360.58 82.94L360.79 82.98L360.99 83.00L361.20 82.98L361.41 82.88L361.61 82.72L361.82 82.51L362.02 82.27L362.23 82.04L362.44 81.84L362.64 81.69L362.85 81.61L363.05 81.62L363.26 81.78L363.47 82.08L363.67 82.49L363.88 82.96L364.08 83.46L364.29 83.93L364.50 84.31L364.70 84.58L364.91 84.70L365.11 84.51L365.32 83.71L365.53 82.38L365.73 80.66L365.94 78.77L366.14 76.90L366.35 75.28L366.56 74.09L366.76 73.47L366.97 73.67L367.17 75.62L367.38 79.21L367.59 83.98L367.79 89.33L368.00 94.57L368.21 99.04L368.41 102.17L368.62 103.55L368.82 100.89L369.03 90.28L369.24 74.56L369.44 58.17L369.65 45.75L369.85 40.81L370.06 44.14L370.27 54.48L370.47 70.37L370.68 89.52L370.88 109.22L371.09 126.65L371.30 139.31L371.50 145.41L371.71 142.32L371.91 125.38L372.12 97.73L372.33 65.15L372.53 34.47L372.74 12.10L372.94 2.73L373.15 11.30L373.36 40.12L373.56 81.11L373.77 122.66L373.97 153.02L374.18 163.59L374.39 157.86L374.59 142.28L374.80 119.06L375.00 91.52L375.21 63.59L375.42 39.26L375.62 22.01L375.83 14.28L376.04 21.14L376.24 48.41L376.45 85.46L376.65 117.34L376.86 131.20L377.07 129.26L377.27 122.58L377.48 112.09L377.68 99.13L377.89 85.35L378.10 72.50L378.30 62.23L378.51 55.85L378.71 54.18L378.92 58.09L379.13 66.88L379.33 78.05L379.54 88.44L379.74 95.11L379.95 96.33L380.16 93.73L380.36 88.82L380.57 83.25L380.77 78.89L380.98 77.20L381.19 77.93L381.39 79.94L381.60 82.55L381.80 84.90L382.01 86.19L382.22 86.09L382.42 85.01L382.63 83.43L382.83 81.97L383.04 81.23L383.25 81.28L383.45 81.62L383.66 82.12L383.87 82.64L384.07 83.04L384.28 83.20L384.48 83.15L384.69 83.01L384.90 82.80L385.10 82.58L385.31 82.40L385.51 82.31L385.72 82.31L385.93 82.35L386.13 82.41L386.34 82.48L386.54 82.55L386.75 82.59L386.96 82.60L387.16 82.60L387.37 82.60L387.57 82.60L387.78 82.60L387.99 82.60L388.19 82.60L388.40 82.60L388.60 82.60L388.81 82.60L389.02 82.60L389.22 82.60L389.43 82.60L389.63 82.60L389.84 82.60L390.05 82.60L390.25 82.60L390.46 82.60L390.67 82.60L390.87 82.60L391.08 82.60L391.28 82.60L391.49 82.60L391.70 82.60L391.90 82.60L392.11 82.60L392.31 82.60L392.52 82.60L392.73 82.60L392.93 82.60L393.14 82.60L393.34 82.60L393.55 82.60L393.76 82.60L393.96 82.60L394.17 82.60L394.37 82.60L394.58 82.60L394.79 82.60L394.99 82.60L395.20 82.60L395.40 82.60L395.61 82.60L395.82 82.60L396.02 82.60L396.23 82.60L396.43 82.60L396.64 82.60L396.85 82.60L397.05 82.60L397.26 82.60L397.46 82.60L397.67 82.60L397.88 82.60L398.08 82.60L398.29 82.60L398.50 82.60L398.70 82.60L398.91 82.60L399.11 82.60L399.32 82.60L399.53 82.60L399.73 82.60L399.94 82.60L400.14 82.60L400.35 82.60L400.56 82.60L400.76 82.60L400.97 82.60L401.17 82.60L401.38 82.60L401.59 82.60L401.79 82.60L402.00 82.60L402.20 82.60L402.41 82.60L402.62 82.60L402.82 82.60L403.03 82.60L403.23 82.60L403.44 82.60L403.65 82.60L403.85 82.60L404.06 82.60L404.26 82.60L404.47 82.60L404.68 82.60L404.88 82.60L405.09 82.60L405.29 82.60L405.50 82.60L405.71 82.60L405.91 82.60L406.12 82.60L406.33 82.60L406.53 82.60L406.74 82.60L406.94 82.60L407.15 82.60L407.36 82.60L407.56 82.60L407.77 82.60L407.97 82.60L408.18 82.60L408.39 82.60L408.59 82.60L408.80 82.60L409.00 82.60L409.21 82.60L409.42 82.60L409.62 82.60L409.83 82.60L410.03 82.60L410.24 82.60L410.45 82.60L410.65 82.60L410.86 82.60L411.06 82.60L411.27 82.60L411.48 82.60L411.68 82.60L411.89 82.60L412.09 82.60L412.30 82.60L412.51 82.60L412.71 82.60L412.92 82.60L413.12 82.60L413.33 82.60L413.54 82.60L413.74 82.60L413.95 82.60L414.16 82.60L414.36 82.60L414.57 82.60L414.77 82.60L414.98 82.60L415.19 82.60L415.39 82.60L415.60 82.60L415.80 82.60L416.01 82.60L416.22 82.60L416.42 82.60L416.63 82.60L416.83 82.60L417.04 82.60L417.25 82.60L417.45 82.60L417.66 82.60L417.86 82.60L418.07 82.60L418.28 82.60L418.48 82.60L418.69 82.60L418.89 82.60L419.10 82.60L419.31 82.60L419.51 82.60L419.72 82.60L419.92 82.60L420.13 82.60L420.34 82.60L420.54 82.60L420.75 82.60L420.96 82.60L421.16 82.60L421.37 82.60L421.57 82.60L421.78 82.60L421.99 82.60L422.19 82.60L422.40 82.60L422.60 82.60L422.81 82.60L423.02 82.60L423.22 82.60L423.43 82.60L423.63 82.60L423.84 82.60L424.05 82.60L424.25 82.60L424.46 82.60L424.66 82.61L424.87 82.60L425.08 82.60L425.28 82.60L425.49 82.59L425.69 82.59L425.90 82.58L426.11 82.58L426.31 82.58L426.52 82.59L426.72 82.60L426.93 82.62L427.14 82.63L427.34 82.64L427.55 82.65L427.75 82.64L427.96 82.62L428.17 82.59L428.37 82.55L428.58 82.52L428.79 82.49L428.99 82.48L429.20 82.49L429.40 82.54L429.61 82.62L429.82 82.71L430.02 82.80L430.23 82.86L430.43 82.88L430.64 82.83L430.85 82.72L431.05 82.55L431.26 82.36L431.46 82.18L431.67 82.06L431.88 82.04L432.08 82.15L432.29 82.37L432.49 82.70L432.70 83.06L432.91 83.38L433.11 83.58L433.32 83.59L433.52 83.39L433.73 82.98L433.94 82.42L434.14 81.82L434.35 81.31L434.55 81.01L434.76 81.02L434.97 81.38L435.17 82.04L435.38 82.89L435.58 83.78L435.79 84.50L436.00 84.89L436.20 84.83L436.41 84.29L436.62 83.35L436.82 82.18L437.03 81.01L437.23 80.09L437.44 79.64L437.65 79.78L437.85 80.51L438.06 81.71L438.26 83.14L438.47 84.52L438.68 85.54L438.88 86.00L439.09 85.77L439.29 84.89L439.50 83.54L439.71 81.98L439.91 80.54L440.12 79.52L440.32 79.12L440.53 79.42L440.74 80.36L440.94 81.72L441.15 83.23L441.35 84.57L441.56 85.47L441.77 85.77L441.97 85.44L442.18 84.55L442.38 83.33L442.59 82.03L442.80 80.92L443.00 80.21L443.21 80.02L443.42 80.34L443.62 81.08L443.83 82.06L444.03 83.05L444.24 83.87L444.45 84.37L444.65 84.47L444.86 84.20L445.06 83.65L445.27 82.96L445.48 82.28L445.68 81.74L445.89 81.43L446.09 81.39L446.30 81.59L446.51 81.95L446.71 82.39L446.92 82.80L447.12 83.12L447.33 83.28L447.54 83.29L447.74 83.17L447.95 82.96L448.15 82.71L448.36 82.49L448.57 82.32L448.77 82.24L448.98 82.24L449.18 82.31L449.39 82.43L449.60 82.55L449.80 82.66L450.01 82.73L450.21 82.77L450.42 82.76L450.63 82.73L450.83 82.68L451.04 82.62L451.25 82.57L451.45 82.54L451.66 82.53L451.86 82.53L452.07 82.55L452.28 82.57L452.48 82.59L452.69 82.61L452.89 82.62L453.10 82.63L453.31 82.62L453.51 82.62L453.72 82.61L453.92 82.60L454.13 82.60L454.34 82.59L454.54 82.59L454.75 82.59L454.95 82.59L455.16 82.60L455.37 82.60L455.57 82.60L455.78 82.60L455.98 82.60L456.19 82.60L456.40 82.60L456.60 82.60L456.81 82.60L457.01 82.60L457.22 82.60L457.43 82.60L457.63 82.60L457.84 82.60L458.04 82.60L458.25 82.60L458.46 82.60L458.66 82.60L458.87 82.60L459.08 82.60L459.28 82.60L459.49 82.60L459.69 82.60L459.90 82.60L460.11 82.60L460.31 82.60L460.52 82.60L460.72 82.60L460.93 82.60L461.14 82.60L461.34 82.60L461.55 82.60L461.75 82.60L461.96 82.60L462.17 82.60L462.37 82.60L462.58 82.60L462.78 82.60L462.99 82.60L463.20 82.60L463.40 82.60L463.61 82.60L463.81 82.60L464.02 82.60L464.23 82.60L464.43 82.60L464.64 82.60L464.84 82.60L465.05 82.60L465.26 82.60L465.46 82.60L465.67 82.60L465.88 82.60L466.08 82.60L466.29 82.60L466.49 82.60L466.70 82.60L466.91 82.60L467.11 82.60L467.32 82.60L467.52 82.60L467.73 82.60L467.94 82.60L468.14 82.60L468.35 82.60L468.55 82.60L468.76 82.60L468.97 82.60L469.17 82.60L469.38 82.60L469.58 82.60L469.79 82.60L470.00 82.60L470.20 82.60L470.41 82.60L470.61 82.60L470.82 82.60L471.03 82.60L471.23 82.60L471.44 82.60L471.64 82.60L471.85 82.60L472.06 82.60L472.26 82.60L472.47 82.60L472.67 82.60L472.88 82.60L473.09 82.60L473.29 82.60L473.50 82.60L473.71 82.60L473.91 82.60L474.12 82.60L474.32 82.60L474.53 82.60L474.74 82.60L474.94 82.60L475.15 82.60L475.35 82.60L475.56 82.60L475.77 82.60L475.97 82.60L476.18 82.60L476.38 82.60L476.59 82.60L476.80 82.60L477.00 82.60L477.21 82.60L477.41 82.60L477.62 82.60L477.83 82.60L478.03 82.60L478.24 82.60L478.44 82.60L478.65 82.60L478.86 82.60L479.06 82.60L479.27 82.60L479.47 82.60L479.68 82.60L479.89 82.60L480.09 82.60L480.30 82.60L480.50 82.60L480.71 82.60L480.92 82.60L481.12 82.60L481.33 82.60L481.54 82.60L481.74 82.60L481.95 82.60L482.15 82.60L482.36 82.60L482.57 82.60L482.77 82.60L482.98 82.60L483.18 82.60L483.39 82.60L483.60 82.59L483.80 82.56L484.01 82.50L484.21 82.42L484.42 82.34L484.63 82.27L484.83 82.22L485.04 82.20L485.24 82.23L485.45 82.33L485.66 82.49L485.86 82.69L486.07 82.88L486.27 83.05L486.48 83.16L486.69 83.20L486.89 83.14L487.10 82.98L487.30 82.75L487.51 82.48L487.72 82.20L487.92 81.95L488.13 81.78L488.33 81.70L488.54 81.75L488.75 81.94L488.95 82.25L489.16 82.64L489.37 83.07L489.57 83.48L489.78 83.81L489.98 84.03L490.19 84.10L490.40 83.90L490.60 83.38L490.81 82.71L491.01 82.13L491.22 81.82L491.43 82.10L491.63 83.47L491.84 85.30L492.04 86.68L492.25 86.95L492.46 86.13L492.66 84.40L492.87 82.00L493.07 79.28L493.28 76.63L493.49 74.43L493.69 72.98L493.90 72.50L494.10 73.48L494.31 76.15L494.52 80.12L494.72 84.84L494.93 89.62L495.13 93.78L495.34 96.73L495.55 98.05L495.75 97.14L495.96 93.21L496.17 86.85L496.37 79.10L496.58 71.19L496.78 64.40L496.99 59.83L497.20 58.20L497.40 60.06L497.61 65.46L497.81 73.70L498.02 83.75L498.23 94.31L498.43 104.04L498.64 111.70L498.84 116.31L499.05 117.15L499.26 111.07L499.46 98.01L499.67 80.71L499.87 62.79L500.08 48.00L500.29 39.44L500.49 38.76L500.70 45.10L500.90 57.33L501.11 73.70L501.32 91.88L501.52 109.27L501.73 123.39L501.93 132.22L502.14 134.44L502.35 126.99L502.55 109.94L502.76 86.86L502.96 62.57L503.17 42.16L503.38 29.90L503.58 28.18L503.79 35.64L504.00 50.57L504.20 70.56L504.41 92.40L504.61 112.57L504.82 127.83L505.03 135.73L505.23 134.91L505.44 125.16L505.64 108.23L505.85 87.22L506.06 65.95L506.26 48.32L506.47 37.54L506.67 35.66L506.88 43.91L507.09 60.66L507.29 81.84L507.50 102.34L507.70 117.19L507.91 122.80L508.12 117.82L508.32 103.68L508.53 84.38L508.73 65.38L508.94 52.07L509.15 48.17L509.35 52.87L509.56 63.86L509.76 78.48L509.97 93.19L510.18 104.42L510.38 109.47L510.59 107.61L510.79 100.28L511.00 89.28L511.21 77.26L511.41 67.14L511.62 61.37L511.83 61.60L512.03 69.12L512.24 81.17L512.44 92.89L512.65 99.55L512.86 99.54L513.06 96.49L513.27 91.33L513.47 84.99L513.68 78.63L513.89 73.42L514.09 70.31L514.30 69.97L514.50 73.64L514.71 80.24L514.92 87.11L515.12 91.47L515.33 91.87L515.53 89.97L515.74 86.59L515.95 82.55L516.15 78.82L516.36 76.31L516.56 75.63L516.77 76.91L516.98 79.74L517.18 83.15L517.39 86.02L517.59 87.36L517.80 87.06L518.01 85.77L518.21 83.85L518.42 81.74L518.62 79.96L518.83 78.94L519.04 78.91L519.24 79.81L519.45 81.35L519.66 83.10L519.86 84.57L520.07 85.34L520.27 85.25L520.48 84.51L520.69 83.34L520.89 82.07L521.10 81.07L521.30 80.61L521.51 80.72L521.72 81.17L521.92 81.85L522.13 82.63L522.33 83.33L522.54 83.83L522.75 84.00L522.95 83.90L523.16 83.62L523.36 83.22L523.57 82.74L523.78 82.27L523.98 81.89L524.19 81.66L524.39 81.60L524.60 81.70L524.81 81.90L525.01 82.19L525.22 82.51L525.42 82.81L525.63 83.05L525.84 83.18L526.04 83.19L526.25 83.12L526.46 83.00L526.66 82.83L526.87 82.65L527.07 82.48L527.28 82.36L527.49 82.30L527.69 82.31L527.90 82.33L528.10 82.38L528.31 82.44L528.52 82.50L528.72 82.55L528.93 82.59L529.13 82.60L529.34 82.60L529.55 82.60L529.75 82.60L529.96 82.60L530.16 82.60L530.37 82.60L530.58 82.60L530.78 82.60L530.99 82.60L531.19 82.60L531.40 82.60L531.61 82.60L531.81 82.60L532.02 82.60L532.22 82.60L532.43 82.60L532.64 82.60L532.84 82.60L533.05 82.60L533.25 82.60L533.46 82.60L533.67 82.60L533.87 82.60L534.08 82.60L534.29 82.60L534.49 82.60L534.70 82.60L534.90 82.60L535.11 82.60L535.32 82.60L535.52 82.60L535.73 82.60L535.93 82.60L536.14 82.60L536.35 82.60L536.55 82.60L536.76 82.60L536.96 82.60L537.17 82.60L537.38 82.60L537.58 82.60L537.79 82.60L537.99 82.60L538.20 82.60L538.41 82.60L538.61 82.60L538.82 82.60L539.02 82.60L539.23 82.60L539.44 82.60L539.64 82.60L539.85 82.60L540.05 82.60L540.26 82.60L540.47 82.60L540.67 82.60L540.88 82.60L541.08 82.60L541.29 82.60L541.50 82.60L541.70 82.60L541.91 82.60L542.12 82.60L542.32 82.60L542.53 82.60L542.73 82.60L542.94 82.60L543.15 82.60L543.35 82.60L543.56 82.60L543.76 82.60L543.97 82.60L544.18 82.60L544.38 82.60L544.59 82.60L544.79 82.60" fill="none" stroke="#2f8bd0" stroke-width="0.72" opacity="0.9" stroke-linecap="round" stroke-dasharray="0 1.9"/><path d="M334.0 82.6H545.0" stroke="#F29E78" stroke-width="1.5"/><path d="M429.61 82.60L429.71 82.61L429.82 82.62L429.92 82.64L430.02 82.65L430.12 82.66L430.23 82.67L430.33 82.68L430.43 82.68L430.54 82.68L430.64 82.68L430.74 82.67L430.85 82.65L430.95 82.63L431.05 82.60L431.15 82.57L431.26 82.53L431.36 82.50L431.46 82.46L431.57 82.43L431.67 82.40L431.77 82.38L431.88 82.37L431.98 82.37L432.08 82.39L432.19 82.42L432.29 82.46L432.39 82.52L432.49 82.59L432.60 82.67L432.70 82.76L432.80 82.85L432.91 82.94L433.01 83.02L433.11 83.09L433.22 83.13L433.32 83.15L433.42 83.14L433.52 83.11L433.63 83.03L433.73 82.93L433.83 82.79L433.94 82.63L434.04 82.45L434.14 82.26L434.25 82.07L434.35 81.89L434.45 81.73L434.55 81.60L434.66 81.51L434.76 81.47L434.86 81.50L434.97 81.58L435.07 81.73L435.17 81.94L435.28 82.20L435.38 82.50L435.48 82.84L435.58 83.19L435.69 83.53L435.79 83.86L435.89 84.13L436.00 84.35L436.10 84.49L436.20 84.54L436.31 84.49L436.41 84.34L436.51 84.08L436.62 83.73L436.72 83.30L436.82 82.81L436.92 82.28L437.03 81.73L437.13 81.20L437.23 80.72L437.34 80.31L437.44 80.01L437.54 79.82L437.65 79.77L437.75 79.86L437.85 80.10L437.95 80.47L438.06 80.97L438.16 81.57L438.26 82.25L438.37 82.96L438.47 83.68L438.57 84.36L438.68 84.98L438.78 85.48L438.88 85.85L438.98 86.07L439.09 86.11L439.19 85.97L439.29 85.66L439.40 85.19L439.50 84.58L439.60 83.87L439.71 83.08L439.81 82.27L439.91 81.46L440.02 80.71L440.12 80.05L440.22 79.52L440.32 79.15L440.43 78.95L440.53 78.93L440.63 79.09L440.74 79.44L440.84 79.93L440.94 80.56L441.05 81.28L441.15 82.05L441.25 82.84L441.35 83.61L441.46 84.31L441.56 84.91L441.66 85.38L441.77 85.70L441.87 85.86L441.97 85.86L442.08 85.69L442.18 85.37L442.28 84.93L442.38 84.38L442.49 83.77L442.59 83.12L442.69 82.47L442.80 81.85L442.90 81.30L443.00 80.83L443.11 80.47L443.21 80.24L443.31 80.13L443.42 80.16L443.52 80.30L443.62 80.55L443.72 80.88L443.83 81.29L443.93 81.73L444.03 82.19L444.14 82.65L444.24 83.07L444.34 83.44L444.45 83.75L444.55 83.98L444.65 84.12L444.75 84.18L444.86 84.15L444.96 84.05L445.06 83.89L445.17 83.67L445.27 83.42L445.37 83.15L445.48 82.87L445.58 82.60L445.68 82.35L445.78 82.14L445.89 81.97L445.99 81.85L446.09 81.77L446.20 81.74L446.30 81.76L446.40 81.82L446.51 81.91L446.61 82.03L446.71 82.17L446.81 82.31L446.92 82.45L447.02 82.59L447.12 82.71L447.23 82.81L447.33 82.89L447.43 82.95L447.54 82.98L447.64 82.99L447.74 82.98L447.85 82.95L447.95 82.91L448.05 82.85L448.15 82.79L448.26 82.73L448.36 82.67L448.46 82.61L448.57 82.56L448.67 82.52L448.77 82.48L448.88 82.46L448.98 82.45L449.08 82.45L449.18 82.45L449.29 82.46L449.39 82.48L449.49 82.50L449.60 82.53L449.70 82.55L449.80 82.57L449.91 82.59L450.01 82.61L450.11 82.63L450.21 82.64L450.32 82.65L450.42 82.65L450.52 82.65" fill="none" stroke="#E2611F" stroke-width="0.85"/></g>
<rect x="334.0" y="4.8" width="211.00" height="157.30" fill="none" stroke="#939393" stroke-width="1.25"/>
<path d="M334.00 162.1V160.0M334.00 4.8V6.9" stroke="#939393" stroke-width="0.8"/>
<text x="334.00" y="175.90" text-anchor="middle" font-size="10" fill="#1e1e1e" stroke="#1e1e1e" stroke-width="0.18">0</text>
<path d="M385.51 162.1V160.0M385.51 4.8V6.9" stroke="#939393" stroke-width="0.8"/>
<text x="385.51" y="175.90" text-anchor="middle" font-size="10" fill="#1e1e1e" stroke="#1e1e1e" stroke-width="0.18">0.1</text>
<path d="M437.03 162.1V160.0M437.03 4.8V6.9" stroke="#939393" stroke-width="0.8"/>
<text x="437.03" y="175.90" text-anchor="middle" font-size="10" fill="#1e1e1e" stroke="#1e1e1e" stroke-width="0.18">0.2</text>
<path d="M488.54 162.1V160.0M488.54 4.8V6.9" stroke="#939393" stroke-width="0.8"/>
<text x="488.54" y="175.90" text-anchor="middle" font-size="10" fill="#1e1e1e" stroke="#1e1e1e" stroke-width="0.18">0.3</text>
<path d="M540.05 162.1V160.0M540.05 4.8V6.9" stroke="#939393" stroke-width="0.8"/>
<text x="540.05" y="175.90" text-anchor="middle" font-size="10" fill="#1e1e1e" stroke="#1e1e1e" stroke-width="0.18">0.4</text>
<path d="M334.0 125.70H336.1M545.0 125.70H542.9" stroke="#939393" stroke-width="0.8"/>
<text x="330.40" y="129.80" text-anchor="end" font-size="10" fill="#1e1e1e" stroke="#1e1e1e" stroke-width="0.18">-0.05</text>
<path d="M334.0 82.60H336.1M545.0 82.60H542.9" stroke="#939393" stroke-width="0.8"/>
<text x="330.40" y="86.70" text-anchor="end" font-size="10" fill="#1e1e1e" stroke="#1e1e1e" stroke-width="0.18">0</text>
<path d="M334.0 39.50H336.1M545.0 39.50H542.9" stroke="#939393" stroke-width="0.8"/>
<text x="330.40" y="43.60" text-anchor="end" font-size="10" fill="#1e1e1e" stroke="#1e1e1e" stroke-width="0.18">0.05</text>
<text x="439.50" y="187.60" text-anchor="middle" font-size="11" fill="#333" stroke="#333" stroke-width="0.12">Time(ms)</text>
<text transform="translate(304.10 83.70) rotate(-90)" text-anchor="middle" font-size="11" fill="#333" stroke="#333" stroke-width="0.12">Amplitude(mv)</text>
<rect x="491.5" y="4.8" width="53.50" height="23.40" fill="#fff" stroke="#939393" stroke-width="1.1"/>
<path d="M493.3 11.10H508.1" stroke="#5fa3dc" stroke-width="0.9" stroke-linecap="round" stroke-dasharray="0 1.4"/>
<path d="M493.1 21.80H508.1" stroke="#F5A688" stroke-width="2.0"/>
<text x="510.00" y="14.70" font-size="9.2" fill="#111" stroke="#111" stroke-width="0.15">Original</text>
<text x="510.00" y="25.40" font-size="9.2" fill="#111" stroke="#111" stroke-width="0.15">Atom 11</text>
<clipPath id="clipc"><rect x="43.2" y="224.2" width="209.80" height="158.00"/></clipPath>
<g clip-path="url(#clipc)"><path d="M43.20 304.50L43.30 304.06L43.40 304.90L43.51 305.80L43.61 305.17L43.71 305.95L43.81 304.41L43.92 302.54L44.02 305.22L44.12 305.41L44.22 303.78L44.33 303.98L44.43 304.35L44.53 305.86L44.63 304.54L44.74 303.48L44.84 306.47L44.94 305.17L45.04 307.28L45.15 306.39L45.25 307.20L45.35 304.84L45.45 306.36L45.56 304.10L45.66 304.27L45.76 304.77L45.86 308.19L45.97 305.29L46.07 304.57L46.17 304.33L46.27 306.74L46.38 305.20L46.48 305.93L46.58 305.68L46.68 302.95L46.79 305.68L46.89 304.55L46.99 303.20L47.09 305.35L47.20 304.66L47.30 304.34L47.40 304.41L47.50 306.29L47.60 304.39L47.71 302.51L47.81 306.77L47.91 303.24L48.01 304.33L48.12 305.44L48.22 301.57L48.32 303.38L48.42 306.26L48.53 304.39L48.63 303.66L48.73 304.78L48.83 303.50L48.94 304.60L49.04 303.52L49.14 302.39L49.24 305.49L49.35 304.20L49.45 305.18L49.55 304.31L49.65 306.24L49.76 305.35L49.86 304.79L49.96 303.18L50.06 302.82L50.17 306.44L50.27 305.66L50.37 303.55L50.47 307.42L50.58 305.18L50.68 304.64L50.78 302.66L50.88 303.49L50.99 304.98L51.09 305.04L51.19 304.87L51.29 302.27L51.40 305.13L51.50 304.94L51.60 303.98L51.70 304.68L51.81 304.79L51.91 306.13L52.01 304.52L52.11 305.15L52.21 302.79L52.32 303.54L52.42 304.54L52.52 303.52L52.62 305.00L52.73 302.96L52.83 304.51L52.93 303.65L53.03 306.39L53.14 303.99L53.24 306.97L53.34 307.48L53.44 304.95L53.55 305.82L53.65 304.26L53.75 301.21L53.85 305.72L53.96 305.41L54.06 304.20L54.16 303.78L54.26 304.76L54.37 304.80L54.47 303.47L54.57 303.74L54.67 306.01L54.78 304.62L54.88 304.45L54.98 306.04L55.08 304.12L55.19 305.76L55.29 303.08L55.39 304.22L55.49 304.37L55.60 305.37L55.70 304.67L55.80 307.43L55.90 306.16L56.01 303.97L56.11 307.62L56.21 303.26L56.31 307.06L56.41 303.39L56.52 305.74L56.62 303.36L56.72 304.31L56.82 306.75L56.93 302.67L57.03 302.39L57.13 304.60L57.23 304.90L57.34 304.73L57.44 305.93L57.54 302.89L57.64 305.30L57.75 304.57L57.85 305.66L57.95 305.42L58.05 306.37L58.16 302.66L58.26 304.73L58.36 303.09L58.46 304.48L58.57 305.52L58.67 304.98L58.77 305.32L58.87 304.49L58.98 305.05L59.08 304.94L59.18 306.52L59.28 305.68L59.39 302.08L59.49 305.48L59.59 306.04L59.69 304.01L59.80 302.44L59.90 306.63L60.00 304.81L60.10 305.43L60.21 307.08L60.31 303.42L60.41 304.53L60.51 304.40L60.62 305.60L60.72 303.83L60.82 305.29L60.92 304.71L61.02 306.12L61.13 306.28L61.23 302.54L61.33 305.24L61.43 304.07L61.54 304.55L61.64 305.15L61.74 305.24L61.84 303.58L61.95 304.94L62.05 304.72L62.15 304.47L62.25 302.78L62.36 303.50L62.46 303.94L62.56 305.33L62.66 306.52L62.77 303.11L62.87 303.08L62.97 304.71L63.07 303.71L63.18 303.36L63.28 303.28L63.38 303.15L63.48 305.17L63.59 302.28L63.69 306.33L63.79 303.24L63.89 303.78L64.00 303.22L64.10 301.75L64.20 302.33L64.30 306.18L64.41 306.97L64.51 303.30L64.61 305.99L64.71 304.52L64.82 303.27L64.92 306.91L65.02 307.59L65.12 304.12L65.22 304.43L65.33 304.86L65.43 304.44L65.53 305.76L65.63 306.72L65.74 304.74L65.84 305.92L65.94 306.91L66.04 303.76L66.15 304.59L66.25 303.90L66.35 305.95L66.45 305.46L66.56 305.96L66.66 305.80L66.76 304.21L66.86 305.65L66.97 303.98L67.07 304.00L67.17 301.53L67.27 306.54L67.38 303.20L67.48 304.63L67.58 304.52L67.68 306.62L67.79 305.17L67.89 303.41L67.99 304.62L68.09 304.38L68.20 304.93L68.30 302.81L68.40 304.54L68.50 307.75L68.61 305.56L68.71 307.45L68.81 309.36L68.91 305.40L69.02 302.70L69.12 304.62L69.22 306.44L69.32 306.14L69.43 303.14L69.53 304.59L69.63 304.78L69.73 304.95L69.83 304.83L69.94 303.72L70.04 304.09L70.14 304.59L70.24 306.41L70.35 304.09L70.45 305.79L70.55 303.11L70.65 306.48L70.76 304.72L70.86 304.42L70.96 306.23L71.06 301.65L71.17 301.91L71.27 304.62L71.37 302.70L71.47 303.18L71.58 307.48L71.68 303.21L71.78 303.62L71.88 303.38L71.99 305.07L72.09 303.90L72.19 303.83L72.29 301.93L72.40 303.31L72.50 303.98L72.60 301.93L72.70 305.20L72.81 305.19L72.91 307.53L73.01 302.82L73.11 303.96L73.22 304.27L73.32 304.86L73.42 305.89L73.52 305.92L73.63 306.75L73.73 306.80L73.83 306.50L73.93 304.40L74.03 305.78L74.14 306.51L74.24 306.95L74.34 306.55L74.44 302.66L74.55 303.53L74.65 303.35L74.75 303.05L74.85 303.22L74.96 300.73L75.06 298.39L75.16 299.32L75.26 298.21L75.37 297.43L75.47 296.28L75.57 298.24L75.67 295.86L75.78 296.53L75.88 293.91L75.98 296.61L76.08 295.39L76.19 295.22L76.29 299.54L76.39 301.95L76.49 303.09L76.60 305.90L76.70 310.02L76.80 310.62L76.90 311.05L77.01 316.97L77.11 319.29L77.21 322.64L77.31 322.42L77.42 326.09L77.52 326.82L77.62 323.79L77.72 326.68L77.83 321.39L77.93 316.27L78.03 311.88L78.13 303.89L78.23 293.52L78.34 288.17L78.44 280.69L78.54 274.77L78.64 267.22L78.75 261.53L78.85 260.89L78.95 264.41L79.05 266.91L79.16 270.80L79.26 275.67L79.36 283.85L79.46 291.83L79.57 301.14L79.67 311.93L79.77 321.61L79.87 331.08L79.98 340.77L80.08 348.25L80.18 351.41L80.28 358.59L80.39 363.09L80.49 367.65L80.59 364.75L80.69 365.02L80.80 357.56L80.90 344.39L81.00 332.04L81.10 320.00L81.21 306.03L81.31 287.42L81.41 271.70L81.51 254.95L81.62 239.88L81.72 232.98L81.82 227.86L81.92 225.54L82.03 225.40L82.13 232.74L82.23 246.56L82.33 261.43L82.44 283.13L82.54 301.37L82.64 323.13L82.74 343.37L82.84 363.05L82.95 374.87L83.05 383.99L83.15 386.87L83.25 385.24L83.36 382.42L83.46 375.90L83.56 363.61L83.66 354.10L83.77 341.01L83.87 326.25L83.97 316.05L84.07 300.35L84.18 285.05L84.28 271.75L84.38 261.28L84.48 249.43L84.59 242.99L84.69 239.87L84.79 236.86L84.89 234.94L85.00 241.75L85.10 256.89L85.20 268.00L85.30 287.49L85.41 305.01L85.51 325.14L85.61 339.45L85.71 350.46L85.82 349.23L85.92 352.89L86.02 348.71L86.12 349.22L86.23 344.20L86.33 342.43L86.43 334.84L86.53 326.51L86.64 323.03L86.74 312.65L86.84 306.78L86.94 302.09L87.04 295.04L87.15 289.37L87.25 284.00L87.35 280.94L87.45 278.69L87.56 276.45L87.66 277.30L87.76 278.93L87.86 279.82L87.97 282.41L88.07 290.86L88.17 294.15L88.27 300.85L88.38 306.88L88.48 309.15L88.58 315.15L88.68 314.94L88.79 319.58L88.89 317.80L88.99 317.75L89.09 316.84L89.20 312.60L89.30 311.01L89.40 307.05L89.50 305.23L89.61 304.29L89.71 300.91L89.81 299.43L89.91 297.64L90.02 300.55L90.12 299.84L90.22 303.19L90.32 300.86L90.43 304.69L90.53 307.10L90.63 305.81L90.73 305.20L90.84 309.88L90.94 309.72L91.04 309.32L91.14 309.68L91.25 307.03L91.35 308.12L91.45 307.22L91.55 304.48L91.65 305.65L91.76 303.23L91.86 304.79L91.96 304.89L92.06 305.78L92.17 300.44L92.27 303.78L92.37 303.15L92.47 303.79L92.58 303.78L92.68 304.21L92.78 301.75L92.88 306.29L92.99 307.22L93.09 306.54L93.19 307.06L93.29 304.00L93.40 303.86L93.50 306.40L93.60 306.95L93.70 305.33L93.81 302.67L93.91 308.72L94.01 303.71L94.11 305.96L94.22 302.78L94.32 305.82L94.42 304.62L94.52 306.40L94.63 305.64L94.73 302.19L94.83 303.04L94.93 304.86L95.04 305.58L95.14 307.12L95.24 304.96L95.34 304.46L95.45 304.57L95.55 304.61L95.65 306.13L95.75 304.60L95.85 304.56L95.96 302.61L96.06 301.77L96.16 304.70L96.26 305.62L96.37 304.60L96.47 305.39L96.57 305.59L96.67 304.59L96.78 306.03L96.88 303.61L96.98 304.65L97.08 304.13L97.19 304.77L97.29 305.57L97.39 305.89L97.49 304.85L97.60 305.30L97.70 304.16L97.80 304.51L97.90 306.50L98.01 304.40L98.11 306.47L98.21 305.40L98.31 304.93L98.42 307.54L98.52 304.37L98.62 304.28L98.72 304.73L98.83 305.12L98.93 305.05L99.03 305.93L99.13 304.89L99.24 305.31L99.34 304.37L99.44 306.26L99.54 304.15L99.65 304.29L99.75 304.71L99.85 305.14L99.95 303.69L100.05 306.94L100.16 303.83L100.26 304.14L100.36 304.08L100.46 303.94L100.57 305.46L100.67 304.88L100.77 303.57L100.87 303.87L100.98 304.20L101.08 306.72L101.18 303.71L101.28 302.79L101.39 303.02L101.49 304.16L101.59 306.78L101.69 303.12L101.80 304.72L101.90 308.21L102.00 303.95L102.10 306.69L102.21 306.40L102.31 305.43L102.41 302.64L102.51 305.04L102.62 304.10L102.72 301.94L102.82 302.17L102.92 304.65L103.03 304.85L103.13 306.35L103.23 305.52L103.33 303.88L103.44 303.92L103.54 304.34L103.64 303.04L103.74 305.63L103.85 304.58L103.95 303.43L104.05 303.64L104.15 302.93L104.26 303.92L104.36 304.95L104.46 303.97L104.56 305.97L104.66 306.90L104.77 303.65L104.87 304.58L104.97 304.05L105.07 306.99L105.18 305.03L105.28 305.38L105.38 305.77L105.48 307.80L105.59 304.99L105.69 303.19L105.79 303.94L105.89 305.38L106.00 304.52L106.10 303.39L106.20 308.54L106.30 304.68L106.41 303.70L106.51 303.50L106.61 302.01L106.71 302.84L106.82 304.04L106.92 304.06L107.02 303.35L107.12 305.29L107.23 304.56L107.33 303.17L107.43 301.63L107.53 304.73L107.64 304.57L107.74 304.21L107.84 302.53L107.94 304.54L108.05 302.35L108.15 305.92L108.25 304.77L108.35 304.79L108.46 303.35L108.56 302.97L108.66 306.71L108.76 305.84L108.86 304.01L108.97 305.46L109.07 306.73L109.17 302.98L109.27 303.78L109.38 303.78L109.48 305.20L109.58 302.99L109.68 304.85L109.79 302.89L109.89 305.84L109.99 305.75L110.09 304.20L110.20 305.53L110.30 303.51L110.40 304.12L110.50 305.85L110.61 304.39L110.71 305.01L110.81 303.16L110.91 305.43L111.02 305.14L111.12 302.73L111.22 301.22L111.32 301.57L111.43 304.41L111.53 304.18L111.63 302.25L111.73 304.68L111.84 305.93L111.94 304.33L112.04 303.84L112.14 305.71L112.25 306.91L112.35 306.60L112.45 303.53L112.55 305.61L112.66 304.71L112.76 304.19L112.86 303.59L112.96 304.99L113.07 303.77L113.17 305.80L113.27 305.03L113.37 306.00L113.47 302.84L113.58 304.54L113.68 305.58L113.78 305.02L113.88 304.82L113.99 303.47L114.09 306.84L114.19 306.02L114.29 305.05L114.40 300.79L114.50 303.10L114.60 304.66L114.70 303.46L114.81 301.49L114.91 304.84L115.01 305.04L115.11 302.73L115.22 303.78L115.32 303.52L115.42 305.24L115.52 301.68L115.63 302.00L115.73 303.67L115.83 303.50L115.93 307.47L116.04 303.57L116.14 304.78L116.24 303.86L116.34 303.50L116.45 305.00L116.55 306.98L116.65 303.96L116.75 305.59L116.86 304.98L116.96 305.39L117.06 305.00L117.16 307.88L117.27 302.72L117.37 304.13L117.47 302.87L117.57 301.60L117.67 304.47L117.78 307.14L117.88 305.81L117.98 306.27L118.08 305.23L118.19 304.38L118.29 307.43L118.39 304.00L118.49 306.71L118.60 304.06L118.70 304.66L118.80 304.96L118.90 304.61L119.01 305.29L119.11 305.40L119.21 306.96L119.31 304.54L119.42 301.80L119.52 301.60L119.62 302.56L119.72 303.47L119.83 305.49L119.93 302.39L120.03 304.58L120.13 304.60L120.24 304.93L120.34 304.37L120.44 305.14L120.54 304.62L120.65 306.09L120.75 305.05L120.85 301.16L120.95 304.60L121.06 304.85L121.16 303.72L121.26 303.46L121.36 306.13L121.47 304.80L121.57 303.16L121.67 304.10L121.77 304.32L121.88 302.22L121.98 305.49L122.08 304.38L122.18 305.26L122.28 302.32L122.39 307.36L122.49 305.48L122.59 305.27L122.69 303.53L122.80 303.61L122.90 302.46L123.00 306.81L123.10 303.40L123.21 304.93L123.31 305.47L123.41 303.71L123.51 305.85L123.62 307.54L123.72 305.04L123.82 306.69L123.92 305.45L124.03 303.96L124.13 304.04L124.23 302.18L124.33 304.79L124.44 306.75L124.54 305.61L124.64 305.85L124.74 306.28L124.85 303.86L124.95 305.44L125.05 307.40L125.15 303.48L125.26 304.66L125.36 303.98L125.46 304.35L125.56 303.57L125.67 304.44L125.77 302.69L125.87 303.88L125.97 303.93L126.08 303.90L126.18 306.63L126.28 304.74L126.38 304.88L126.48 304.20L126.59 306.49L126.69 302.11L126.79 304.35L126.89 306.27L127.00 307.00L127.10 304.91L127.20 304.63L127.30 305.55L127.41 304.37L127.51 305.44L127.61 303.69L127.71 305.56L127.82 304.56L127.92 303.07L128.02 300.73L128.12 305.98L128.23 305.18L128.33 305.73L128.43 303.35L128.53 306.18L128.64 305.21L128.74 304.54L128.84 305.93L128.94 305.90L129.05 305.20L129.15 307.58L129.25 306.62L129.35 305.10L129.46 304.28L129.56 304.77L129.66 307.10L129.76 305.18L129.87 303.33L129.97 303.69L130.07 304.62L130.17 305.80L130.28 303.58L130.38 305.35L130.48 306.21L130.58 305.68L130.68 302.38L130.79 304.18L130.89 302.80L130.99 305.20L131.09 303.13L131.20 305.38L131.30 304.73L131.40 300.86L131.50 303.38L131.61 305.23L131.71 304.62L131.81 304.02L131.91 302.73L132.02 305.21L132.12 307.05L132.22 304.91L132.32 304.48L132.43 304.34L132.53 302.57L132.63 304.04L132.73 303.31L132.84 306.12L132.94 303.23L133.04 301.43L133.14 303.37L133.25 304.13L133.35 304.28L133.45 301.89L133.55 305.86L133.66 304.67L133.76 303.83L133.86 303.41L133.96 305.14L134.07 304.05L134.17 304.90L134.27 304.32L134.37 304.68L134.48 306.16L134.58 304.52L134.68 303.20L134.78 305.90L134.89 304.84L134.99 303.51L135.09 306.05L135.19 304.22L135.29 306.05L135.40 302.84L135.50 301.12L135.60 301.56L135.70 304.85L135.81 303.45L135.91 304.36L136.01 304.40L136.11 302.28L136.22 306.48L136.32 303.00L136.42 304.61L136.52 302.47L136.63 304.25L136.73 305.49L136.83 304.09L136.93 303.40L137.04 304.40L137.14 303.72L137.24 305.18L137.34 307.52L137.45 303.07L137.55 303.35L137.65 304.16L137.75 304.28L137.86 302.88L137.96 305.08L138.06 305.48L138.16 304.75L138.27 302.78L138.37 306.60L138.47 302.87L138.57 305.59L138.68 306.31L138.78 302.89L138.88 304.91L138.98 306.68L139.09 305.31L139.19 303.40L139.29 302.99L139.39 305.31L139.49 304.03L139.60 303.50L139.70 305.40L139.80 303.84L139.90 304.31L140.01 304.95L140.11 304.80L140.21 303.91L140.31 303.92L140.42 304.76L140.52 304.56L140.62 302.34L140.72 303.73L140.83 302.85L140.93 302.51L141.03 303.56L141.13 301.27L141.24 305.99L141.34 303.78L141.44 305.60L141.54 302.57L141.65 302.91L141.75 308.35L141.85 306.94L141.95 304.53L142.06 304.27L142.16 304.22L142.26 305.22L142.36 304.22L142.47 303.66L142.57 304.43L142.67 302.51L142.77 307.03L142.88 302.51L142.98 304.71L143.08 301.61L143.18 303.23L143.29 304.16L143.39 302.36L143.49 304.38L143.59 304.60L143.70 305.86L143.80 303.97L143.90 303.62L144.00 303.30L144.10 305.46L144.21 304.15L144.31 306.06L144.41 306.56L144.51 305.83L144.62 305.27L144.72 307.35L144.82 307.11L144.92 306.78L145.03 306.09L145.13 307.09L145.23 303.75L145.33 305.27L145.44 303.40L145.54 304.68L145.64 302.37L145.74 301.81L145.85 302.58L145.95 298.71L146.05 300.97L146.15 298.90L146.26 300.25L146.36 302.92L146.46 302.95L146.56 302.31L146.67 303.51L146.77 304.24L146.87 305.47L146.97 308.42L147.08 306.77L147.18 310.26L147.28 306.93L147.38 308.85L147.49 308.98L147.59 308.22L147.69 307.30L147.79 309.43L147.90 309.38L148.00 307.74L148.10 308.44L148.20 306.08L148.30 301.54L148.41 304.66L148.51 301.47L148.61 303.85L148.71 300.95L148.82 301.57L148.92 301.07L149.02 300.22L149.12 298.72L149.23 301.41L149.33 302.05L149.43 304.31L149.53 302.76L149.64 304.74L149.74 303.92L149.84 305.91L149.94 303.94L150.05 309.92L150.15 307.83L150.25 306.34L150.35 308.22L150.46 308.77L150.56 307.75L150.66 309.00L150.76 306.30L150.87 302.31L150.97 303.56L151.07 306.20L151.17 305.21L151.28 303.92L151.38 301.34L151.48 303.59L151.58 303.10L151.69 300.63L151.79 300.63L151.89 302.54L151.99 303.86L152.10 304.82L152.20 303.99L152.30 306.71L152.40 302.85L152.50 305.39L152.61 304.25L152.71 302.67L152.81 304.07L152.91 307.77L153.02 305.01L153.12 304.69L153.22 307.48L153.32 307.69L153.43 306.28L153.53 308.21L153.63 303.41L153.73 308.74L153.84 306.48L153.94 304.90L154.04 304.51L154.14 303.63L154.25 303.23L154.35 303.76L154.45 301.66L154.55 306.40L154.66 303.28L154.76 304.40L154.86 303.28L154.96 303.32L155.07 305.18L155.17 305.00L155.27 303.13L155.37 303.99L155.48 305.70L155.58 301.89L155.68 301.64L155.78 307.27L155.89 304.75L155.99 301.54L156.09 304.05L156.19 304.83L156.30 305.38L156.40 305.77L156.50 305.17L156.60 305.54L156.71 303.52L156.81 305.08L156.91 305.03L157.01 306.05L157.11 304.29L157.22 305.48L157.32 304.40L157.42 302.60L157.52 303.60L157.63 303.43L157.73 303.69L157.83 304.18L157.93 304.51L158.04 304.84L158.14 303.34L158.24 306.09L158.34 302.59L158.45 304.55L158.55 305.73L158.65 305.37L158.75 305.66L158.86 304.44L158.96 305.72L159.06 302.98L159.16 305.77L159.27 307.93L159.37 305.65L159.47 307.49L159.57 304.58L159.68 302.94L159.78 303.53L159.88 306.42L159.98 305.56L160.09 301.83L160.19 303.96L160.29 304.42L160.39 302.89L160.50 300.85L160.60 302.55L160.70 304.25L160.80 303.95L160.91 303.58L161.01 305.39L161.11 306.05L161.21 304.43L161.31 305.90L161.42 304.61L161.52 304.38L161.62 301.10L161.72 305.77L161.83 304.70L161.93 304.76L162.03 303.88L162.13 302.98L162.24 305.23L162.34 305.71L162.44 306.91L162.54 305.86L162.65 303.71L162.75 304.43L162.85 305.98L162.95 305.04L163.06 304.45L163.16 303.75L163.26 305.36L163.36 304.86L163.47 307.16L163.57 306.18L163.67 302.13L163.77 307.70L163.88 304.99L163.98 304.18L164.08 305.05L164.18 305.69L164.29 304.59L164.39 304.51L164.49 304.62L164.59 307.25L164.70 304.72L164.80 305.75L164.90 305.30L165.00 304.17L165.11 303.56L165.21 303.19L165.31 305.23L165.41 303.15L165.52 302.78L165.62 302.83L165.72 302.46L165.82 304.71L165.92 304.75L166.03 303.29L166.13 306.50L166.23 304.19L166.33 305.28L166.44 305.04L166.54 307.05L166.64 305.80L166.74 304.53L166.85 303.20L166.95 303.05L167.05 304.62L167.15 304.78L167.26 305.72L167.36 303.91L167.46 304.86L167.56 303.61L167.67 301.93L167.77 304.55L167.87 306.69L167.97 305.76L168.08 306.64L168.18 306.25L168.28 302.59L168.38 304.17L168.49 306.73L168.59 303.54L168.69 302.65L168.79 305.03L168.90 305.49L169.00 304.99L169.10 304.08L169.20 303.56L169.31 302.77L169.41 302.72L169.51 302.76L169.61 302.51L169.72 303.53L169.82 306.74L169.92 304.69L170.02 304.04L170.12 305.06L170.23 303.17L170.33 305.03L170.43 305.86L170.53 302.38L170.64 303.52L170.74 304.18L170.84 303.14L170.94 302.94L171.05 304.00L171.15 308.10L171.25 305.49L171.35 305.17L171.46 305.94L171.56 304.21L171.66 302.75L171.76 305.21L171.87 306.16L171.97 301.53L172.07 305.16L172.17 306.31L172.28 304.15L172.38 303.88L172.48 305.53L172.58 303.34L172.69 305.21L172.79 305.85L172.89 304.24L172.99 303.37L173.10 305.43L173.20 304.02L173.30 304.64L173.40 300.36L173.51 305.54L173.61 302.47L173.71 304.58L173.81 304.69L173.92 303.44L174.02 303.19L174.12 302.64L174.22 304.02L174.32 305.38L174.43 305.29L174.53 303.75L174.63 303.65L174.73 302.45L174.84 303.89L174.94 302.95L175.04 302.28L175.14 304.26L175.25 306.68L175.35 306.23L175.45 306.61L175.55 302.17L175.66 305.74L175.76 302.70L175.86 303.64L175.96 301.99L176.07 303.03L176.17 304.65L176.27 304.79L176.37 304.38L176.48 304.24L176.58 305.28L176.68 304.55L176.78 302.14L176.89 306.99L176.99 304.12L177.09 305.83L177.19 304.23L177.30 303.27L177.40 304.58L177.50 303.37L177.60 306.83L177.71 302.88L177.81 305.38L177.91 303.59L178.01 304.23L178.12 308.29L178.22 305.61L178.32 304.18L178.42 302.22L178.53 304.08L178.63 304.12L178.73 306.57L178.83 302.40L178.93 301.85L179.04 304.46L179.14 304.82L179.24 306.87L179.34 303.21L179.45 300.54L179.55 303.45L179.65 302.65L179.75 303.71L179.86 305.94L179.96 302.54L180.06 306.31L180.16 304.81L180.27 304.09L180.37 303.21L180.47 303.89L180.57 303.93L180.68 305.62L180.78 306.39L180.88 304.41L180.98 305.54L181.09 306.42L181.19 306.35L181.29 305.22L181.39 307.21L181.50 306.47L181.60 306.89L181.70 304.23L181.80 303.90L181.91 301.56L182.01 306.69L182.11 305.50L182.21 303.16L182.32 304.82L182.42 304.98L182.52 302.00L182.62 305.00L182.73 306.19L182.83 306.43L182.93 304.01L183.03 304.05L183.13 306.51L183.24 305.94L183.34 303.72L183.44 303.65L183.54 305.44L183.65 303.59L183.75 303.66L183.85 307.11L183.95 304.96L184.06 303.89L184.16 305.34L184.26 307.63L184.36 304.91L184.47 303.40L184.57 302.19L184.67 307.71L184.77 300.67L184.88 306.15L184.98 303.10L185.08 302.69L185.18 303.06L185.29 304.28L185.39 306.20L185.49 303.58L185.59 305.55L185.70 308.19L185.80 300.36L185.90 303.46L186.00 301.84L186.11 305.84L186.21 302.35L186.31 302.17L186.41 302.22L186.52 304.53L186.62 306.26L186.72 304.76L186.82 307.73L186.93 306.99L187.03 304.37L187.13 305.95L187.23 304.74L187.34 304.66L187.44 301.67L187.54 302.60L187.64 304.57L187.74 302.73L187.85 305.64L187.95 304.99L188.05 303.17L188.15 306.32L188.26 304.91L188.36 306.43L188.46 304.33L188.56 302.11L188.67 305.60L188.77 304.17L188.87 305.81L188.97 306.18L189.08 306.31L189.18 302.37L189.28 301.04L189.38 303.79L189.49 305.55L189.59 303.47L189.69 304.99L189.79 303.33L189.90 304.07L190.00 304.09L190.10 303.61L190.20 305.35L190.31 305.09L190.41 307.02L190.51 305.15L190.61 306.58L190.72 304.71L190.82 305.90L190.92 304.35L191.02 303.84L191.13 306.58L191.23 305.69L191.33 305.88L191.43 303.41L191.54 302.00L191.64 303.25L191.74 305.01L191.84 302.35L191.94 306.71L192.05 302.28L192.15 305.42L192.25 308.50L192.35 300.52L192.46 302.05L192.56 305.83L192.66 304.03L192.76 304.55L192.87 304.05L192.97 306.34L193.07 305.14L193.17 303.43L193.28 303.78L193.38 302.34L193.48 303.98L193.58 300.68L193.69 305.21L193.79 303.85L193.89 307.11L193.99 306.23L194.10 302.54L194.20 305.97L194.30 303.91L194.40 304.88L194.51 306.41L194.61 305.47L194.71 305.77L194.81 305.78L194.92 303.99L195.02 304.15L195.12 305.94L195.22 306.38L195.33 304.57L195.43 305.04L195.53 303.27L195.63 300.76L195.74 303.28L195.84 304.43L195.94 304.48L196.04 305.35L196.15 305.29L196.25 305.32L196.35 304.33L196.45 304.30L196.55 302.53L196.66 304.18L196.76 303.89L196.86 305.42L196.96 301.31L197.07 303.09L197.17 301.35L197.27 302.98L197.37 302.16L197.48 304.91L197.58 303.71L197.68 301.02L197.78 306.98L197.89 303.66L197.99 303.08L198.09 305.11L198.19 304.73L198.30 304.07L198.40 306.98L198.50 305.40L198.60 307.26L198.71 306.82L198.81 306.50L198.91 305.50L199.01 304.73L199.12 303.94L199.22 306.42L199.32 301.06L199.42 302.09L199.53 302.62L199.63 304.25L199.73 304.13L199.83 303.76L199.94 304.76L200.04 308.82L200.14 306.11L200.24 303.66L200.35 311.39L200.45 307.42L200.55 308.34L200.65 308.77L200.75 306.00L200.86 309.07L200.96 306.07L201.06 302.97L201.16 304.19L201.27 303.17L201.37 300.98L201.47 300.45L201.57 296.14L201.68 298.64L201.78 294.93L201.88 297.29L201.98 293.78L202.09 294.57L202.19 298.19L202.29 294.58L202.39 296.90L202.50 297.11L202.60 295.67L202.70 301.54L202.80 303.60L202.91 302.16L203.01 306.58L203.11 306.89L203.21 311.10L203.32 315.13L203.42 315.89L203.52 315.61L203.62 317.36L203.73 319.66L203.83 320.03L203.93 320.20L204.03 320.05L204.14 314.65L204.24 315.20L204.34 313.95L204.44 309.51L204.55 303.88L204.65 300.00L204.75 297.11L204.85 293.98L204.95 289.29L205.06 288.64L205.16 285.43L205.26 280.30L205.36 281.00L205.47 279.29L205.57 278.49L205.67 280.76L205.77 284.02L205.88 283.98L205.98 290.04L206.08 296.05L206.18 299.33L206.29 305.04L206.39 312.30L206.49 316.21L206.59 321.67L206.70 329.11L206.80 330.61L206.90 334.31L207.00 337.31L207.11 341.02L207.21 340.05L207.31 339.46L207.41 337.17L207.52 334.96L207.62 326.44L207.72 321.89L207.82 311.98L207.93 300.62L208.03 294.42L208.13 285.26L208.23 274.79L208.34 270.14L208.44 264.74L208.54 260.58L208.64 257.99L208.75 263.54L208.85 263.85L208.95 268.14L209.05 273.78L209.16 280.26L209.26 288.12L209.36 295.06L209.46 305.96L209.56 313.69L209.67 322.32L209.77 332.53L209.87 338.92L209.97 343.24L210.08 350.44L210.18 355.57L210.28 356.73L210.38 358.23L210.49 354.05L210.59 348.04L210.69 342.98L210.79 332.43L210.90 319.27L211.00 309.55L211.10 296.08L211.20 285.80L211.31 274.40L211.41 264.42L211.51 253.04L211.61 251.87L211.72 249.83L211.82 250.36L211.92 252.50L212.02 256.11L212.13 263.52L212.23 269.13L212.33 281.48L212.43 290.22L212.54 302.95L212.64 313.51L212.74 327.12L212.84 334.96L212.95 343.38L213.05 350.54L213.15 358.37L213.25 356.87L213.36 359.47L213.46 357.97L213.56 353.84L213.66 347.82L213.76 339.08L213.87 332.25L213.97 321.42L214.07 308.74L214.17 297.99L214.28 288.23L214.38 278.93L214.48 271.10L214.58 263.49L214.69 257.26L214.79 258.38L214.89 254.86L214.99 258.76L215.10 266.09L215.20 271.88L215.30 284.49L215.40 295.32L215.51 305.62L215.61 315.11L215.71 324.91L215.81 333.68L215.92 339.29L216.02 346.71L216.12 344.37L216.22 345.98L216.33 341.04L216.43 334.49L216.53 327.48L216.63 318.37L216.74 307.77L216.84 296.32L216.94 286.25L217.04 278.55L217.15 275.12L217.25 271.54L217.35 271.07L217.45 270.54L217.56 277.46L217.66 277.56L217.76 286.29L217.86 293.86L217.97 299.84L218.07 306.48L218.17 314.69L218.27 319.96L218.37 326.35L218.48 328.19L218.58 329.82L218.68 331.61L218.78 327.66L218.89 326.42L218.99 322.23L219.09 318.46L219.19 311.67L219.30 303.98L219.40 301.03L219.50 292.63L219.60 288.37L219.71 284.90L219.81 286.29L219.91 282.43L220.01 282.34L220.12 287.38L220.22 290.75L220.32 300.17L220.42 302.07L220.53 310.31L220.63 313.61L220.73 321.83L220.83 320.60L220.94 322.50L221.04 320.42L221.14 321.74L221.24 319.44L221.35 312.85L221.45 314.53L221.55 311.22L221.65 307.32L221.76 305.12L221.86 298.75L221.96 295.12L222.06 296.26L222.17 295.87L222.27 290.37L222.37 289.88L222.47 290.54L222.57 291.40L222.68 296.73L222.78 298.82L222.88 304.15L222.98 307.82L223.09 307.62L223.19 312.70L223.29 310.12L223.39 313.99L223.50 314.80L223.60 311.96L223.70 309.31L223.80 309.67L223.91 310.32L224.01 305.97L224.11 302.44L224.21 303.19L224.32 301.82L224.42 297.73L224.52 297.94L224.62 299.16L224.73 298.01L224.83 298.98L224.93 298.32L225.03 299.88L225.14 299.93L225.24 302.29L225.34 307.35L225.44 306.05L225.55 306.64L225.65 308.20L225.75 307.80L225.85 310.10L225.96 310.39L226.06 307.10L226.16 309.27L226.26 309.95L226.37 304.26L226.47 305.74L226.57 304.08L226.67 304.70L226.78 303.77L226.88 302.89L226.98 301.33L227.08 300.12L227.18 304.14L227.29 300.02L227.39 303.41L227.49 303.96L227.59 302.24L227.70 304.23L227.80 307.26L227.90 303.11L228.00 307.75L228.11 306.63L228.21 306.98L228.31 305.25L228.41 307.85L228.52 305.40L228.62 307.51L228.72 304.23L228.82 306.36L228.93 305.12L229.03 301.19L229.13 302.94L229.23 302.79L229.34 299.36L229.44 301.96L229.54 303.69L229.64 301.53L229.75 304.52L229.85 301.40L229.95 301.61L230.05 304.58L230.16 305.05L230.26 304.27L230.36 304.88L230.46 306.67L230.57 304.69L230.67 308.73L230.77 306.50L230.87 306.51L230.98 306.29L231.08 305.36L231.18 307.49L231.28 304.67L231.38 305.61L231.49 306.07L231.59 306.89L231.69 306.37L231.79 303.87L231.90 305.58L232.00 303.87L232.10 302.23L232.20 302.13L232.31 301.26L232.41 303.93L232.51 305.08L232.61 302.03L232.72 303.14L232.82 302.03L232.92 303.78L233.02 302.18L233.13 302.85L233.23 303.20L233.33 303.67L233.43 303.99L233.54 304.37L233.64 304.52L233.74 303.50L233.84 305.79L233.95 302.54L234.05 305.26L234.15 303.66L234.25 305.20L234.36 305.39L234.46 302.00L234.56 305.35L234.66 306.69L234.77 305.78L234.87 305.10L234.97 301.39L235.07 304.16L235.18 303.01L235.28 305.78L235.38 303.74L235.48 303.24L235.58 301.56L235.69 305.22L235.79 303.32L235.89 303.77L235.99 305.73L236.10 304.28L236.20 304.66L236.30 307.71L236.40 303.46L236.51 303.57L236.61 305.04L236.71 306.38L236.81 302.28L236.92 304.08L237.02 303.00L237.12 302.43L237.22 305.26L237.33 303.31L237.43 304.85L237.53 304.59L237.63 304.63L237.74 304.50L237.84 302.87L237.94 304.32L238.04 304.73L238.15 304.90L238.25 304.00L238.35 305.81L238.45 305.24L238.56 304.58L238.66 305.33L238.76 304.67L238.86 305.39L238.97 301.57L239.07 302.55L239.17 303.84L239.27 304.58L239.38 301.29L239.48 304.03L239.58 304.63L239.68 304.06L239.79 304.05L239.89 302.43L239.99 304.53L240.09 301.43L240.19 305.79L240.30 303.48L240.40 305.97L240.50 301.84L240.60 304.98L240.71 304.59L240.81 303.15L240.91 302.66L241.01 306.13L241.12 305.01L241.22 306.54L241.32 304.30L241.42 304.65L241.53 305.01L241.63 305.50L241.73 305.07L241.83 305.59L241.94 303.73L242.04 302.28L242.14 307.33L242.24 304.67L242.35 305.11L242.45 303.78L242.55 305.89L242.65 304.71L242.76 306.02L242.86 303.48L242.96 304.35L243.06 304.74L243.17 303.96L243.27 304.86L243.37 306.78L243.47 303.63L243.58 304.08L243.68 304.73L243.78 303.06L243.88 302.72L243.99 306.10L244.09 305.64L244.19 302.23L244.29 302.42L244.39 305.58L244.50 306.23L244.60 305.43L244.70 305.23L244.80 306.82L244.91 304.45L245.01 306.37L245.11 306.27L245.21 303.16L245.32 305.50L245.42 304.60L245.52 303.58L245.62 303.31L245.73 304.99L245.83 304.44L245.93 305.71L246.03 301.94L246.14 303.55L246.24 306.12L246.34 304.49L246.44 303.46L246.55 303.80L246.65 301.82L246.75 302.49L246.85 305.29L246.96 304.63L247.06 306.38L247.16 304.13L247.26 304.28L247.37 300.54L247.47 304.36L247.57 307.57L247.67 305.48L247.78 304.34L247.88 306.34L247.98 305.77L248.08 305.04L248.19 304.00L248.29 304.74L248.39 305.80L248.49 303.35L248.60 305.29L248.70 305.23L248.80 306.52L248.90 305.65L249.00 303.55L249.11 306.87L249.21 304.60L249.31 303.45L249.41 305.05L249.52 304.15L249.62 306.14L249.72 302.58L249.82 302.89L249.93 304.16L250.03 307.07L250.13 306.03L250.23 303.07L250.34 301.99L250.44 304.07L250.54 302.67L250.64 305.39L250.75 304.78L250.85 304.50L250.95 303.88L251.05 306.74L251.16 303.12L251.26 302.56L251.36 306.18L251.46 306.48L251.57 303.99L251.67 305.46L251.77 307.97L251.87 303.32L251.98 304.27L252.08 305.20L252.18 301.40L252.28 304.30L252.39 305.60L252.49 304.35L252.59 306.02L252.69 305.62L252.80 303.93L252.90 305.31" fill="none" stroke="#2f8bd0" stroke-width="0.8" opacity="1.0" stroke-linecap="round" stroke-dasharray="0 1.9"/><path d="M43.2 304.5H253.0" stroke="rgba(214,104,56,0.6)" stroke-width="1.0"/><path d="M138.27 304.50L138.37 304.51L138.47 304.52L138.57 304.54L138.68 304.55L138.78 304.56L138.88 304.57L138.98 304.58L139.09 304.58L139.19 304.58L139.29 304.58L139.39 304.57L139.49 304.55L139.60 304.53L139.70 304.50L139.80 304.47L139.90 304.43L140.01 304.40L140.11 304.36L140.21 304.33L140.31 304.30L140.42 304.28L140.52 304.27L140.62 304.27L140.72 304.29L140.83 304.32L140.93 304.36L141.03 304.42L141.13 304.49L141.24 304.57L141.34 304.66L141.44 304.76L141.54 304.84L141.65 304.92L141.75 304.99L141.85 305.04L141.95 305.06L142.06 305.05L142.16 305.01L142.26 304.94L142.36 304.83L142.47 304.70L142.57 304.53L142.67 304.35L142.77 304.16L142.88 303.97L142.98 303.78L143.08 303.62L143.18 303.49L143.29 303.40L143.39 303.36L143.49 303.39L143.59 303.47L143.70 303.62L143.80 303.83L143.90 304.09L144.00 304.40L144.10 304.74L144.21 305.09L144.31 305.44L144.41 305.77L144.51 306.05L144.62 306.27L144.72 306.41L144.82 306.46L144.92 306.41L145.03 306.25L145.13 305.99L145.23 305.64L145.33 305.21L145.44 304.71L145.54 304.17L145.64 303.62L145.74 303.09L145.85 302.60L145.95 302.19L146.05 301.88L146.15 301.69L146.26 301.64L146.36 301.73L146.46 301.97L146.56 302.35L146.67 302.86L146.77 303.46L146.87 304.15L146.97 304.87L147.08 305.59L147.18 306.28L147.28 306.90L147.38 307.41L147.49 307.78L147.59 308.00L147.69 308.04L147.79 307.90L147.90 307.59L148.00 307.12L148.10 306.50L148.20 305.78L148.30 304.99L148.41 304.16L148.51 303.35L148.61 302.59L148.71 301.93L148.82 301.39L148.92 301.01L149.02 300.81L149.12 300.79L149.23 300.96L149.33 301.30L149.43 301.80L149.53 302.44L149.64 303.16L149.74 303.94L149.84 304.74L149.94 305.52L150.05 306.22L150.15 306.83L150.25 307.31L150.35 307.63L150.46 307.80L150.56 307.79L150.66 307.62L150.76 307.30L150.87 306.85L150.97 306.30L151.07 305.68L151.17 305.02L151.28 304.37L151.38 303.74L151.48 303.18L151.58 302.71L151.69 302.35L151.79 302.12L151.89 302.01L151.99 302.03L152.10 302.17L152.20 302.43L152.30 302.77L152.40 303.17L152.50 303.62L152.61 304.09L152.71 304.55L152.81 304.97L152.91 305.35L153.02 305.66L153.12 305.89L153.22 306.04L153.32 306.09L153.43 306.07L153.53 305.97L153.63 305.80L153.73 305.58L153.84 305.33L153.94 305.05L154.04 304.77L154.14 304.50L154.25 304.25L154.35 304.04L154.45 303.86L154.55 303.74L154.66 303.66L154.76 303.64L154.86 303.65L154.96 303.71L155.07 303.81L155.17 303.93L155.27 304.06L155.37 304.21L155.48 304.35L155.58 304.49L155.68 304.61L155.78 304.71L155.89 304.80L155.99 304.85L156.09 304.89L156.19 304.90L156.30 304.89L156.40 304.86L156.50 304.81L156.60 304.76L156.71 304.70L156.81 304.63L156.91 304.57L157.01 304.51L157.11 304.46L157.22 304.42L157.32 304.38L157.42 304.36L157.52 304.35L157.63 304.35L157.73 304.35L157.83 304.36L157.93 304.38L158.04 304.40L158.14 304.43L158.24 304.45L158.34 304.47L158.45 304.49L158.55 304.51L158.65 304.53L158.75 304.54L158.86 304.55L158.96 304.55L159.06 304.55" fill="none" stroke="#E2611F" stroke-width="0.9"/></g>
<rect x="43.2" y="224.2" width="209.80" height="158.00" fill="none" stroke="#939393" stroke-width="1.25"/>
<path d="M43.20 382.2V380.09999999999997M43.20 224.2V226.29999999999998" stroke="#939393" stroke-width="0.8"/>
<text x="43.20" y="396.10" text-anchor="middle" font-size="10" fill="#1e1e1e" stroke="#1e1e1e" stroke-width="0.18">0</text>
<path d="M94.42 382.2V380.09999999999997M94.42 224.2V226.29999999999998" stroke="#939393" stroke-width="0.8"/>
<text x="94.42" y="396.10" text-anchor="middle" font-size="10" fill="#1e1e1e" stroke="#1e1e1e" stroke-width="0.18">0.1</text>
<path d="M145.64 382.2V380.09999999999997M145.64 224.2V226.29999999999998" stroke="#939393" stroke-width="0.8"/>
<text x="145.64" y="396.10" text-anchor="middle" font-size="10" fill="#1e1e1e" stroke="#1e1e1e" stroke-width="0.18">0.2</text>
<path d="M196.86 382.2V380.09999999999997M196.86 224.2V226.29999999999998" stroke="#939393" stroke-width="0.8"/>
<text x="196.86" y="396.10" text-anchor="middle" font-size="10" fill="#1e1e1e" stroke="#1e1e1e" stroke-width="0.18">0.3</text>
<path d="M248.08 382.2V380.09999999999997M248.08 224.2V226.29999999999998" stroke="#939393" stroke-width="0.8"/>
<text x="248.08" y="396.10" text-anchor="middle" font-size="10" fill="#1e1e1e" stroke="#1e1e1e" stroke-width="0.18">0.4</text>
<path d="M43.2 347.75H45.300000000000004M253.0 347.75H250.9" stroke="#939393" stroke-width="0.8"/>
<text x="39.60" y="351.85" text-anchor="end" font-size="10" fill="#1e1e1e" stroke="#1e1e1e" stroke-width="0.18">-0.05</text>
<path d="M43.2 304.50H45.300000000000004M253.0 304.50H250.9" stroke="#939393" stroke-width="0.8"/>
<text x="39.60" y="308.60" text-anchor="end" font-size="10" fill="#1e1e1e" stroke="#1e1e1e" stroke-width="0.18">0</text>
<path d="M43.2 261.25H45.300000000000004M253.0 261.25H250.9" stroke="#939393" stroke-width="0.8"/>
<text x="39.60" y="265.35" text-anchor="end" font-size="10" fill="#1e1e1e" stroke="#1e1e1e" stroke-width="0.18">0.05</text>
<text x="148.10" y="408.40" text-anchor="middle" font-size="11" fill="#333" stroke="#333" stroke-width="0.12">Time(ms)</text>
<text transform="translate(14.70 303.10) rotate(-90)" text-anchor="middle" font-size="11" fill="#333" stroke="#333" stroke-width="0.12">Amplitude(mv)</text>
<rect x="199.5" y="224.2" width="53.50" height="23.30" fill="#fff" stroke="#939393" stroke-width="1.1"/>
<path d="M201.3 230.00H216.1" stroke="#5fa3dc" stroke-width="0.9" stroke-linecap="round" stroke-dasharray="0 1.4"/>
<path d="M201.1 240.70H216.1" stroke="#F5A688" stroke-width="1.7"/>
<text x="218.00" y="233.60" font-size="9.2" fill="#111" stroke="#111" stroke-width="0.15">Original</text>
<text x="218.00" y="244.30" font-size="9.2" fill="#111" stroke="#111" stroke-width="0.15">Atom 13</text>
<clipPath id="clipd"><rect x="334.5" y="226.0" width="210.00" height="154.40"/></clipPath>
<g clip-path="url(#clipd)"><path d="M334.50 304.32L334.60 292.02L334.71 296.71L334.81 297.04L334.91 298.63L335.01 298.89L335.12 293.25L335.22 301.81L335.32 290.94L335.42 307.22L335.53 303.18L335.63 309.70L335.73 303.69L335.83 298.69L335.94 293.28L336.04 305.55L336.14 301.67L336.24 303.78L336.35 305.98L336.45 308.60L336.55 301.35L336.65 311.75L336.76 301.06L336.86 301.58L336.96 305.51L337.06 307.56L337.17 309.73L337.27 290.85L337.37 309.48L337.47 292.67L337.58 298.22L337.68 303.81L337.78 308.41L337.88 295.65L337.99 291.67L338.09 307.12L338.19 303.43L338.29 295.60L338.40 299.75L338.50 290.10L338.60 305.01L338.70 298.55L338.81 308.96L338.91 289.54L339.01 305.94L339.11 314.51L339.22 302.43L339.32 302.51L339.42 290.59L339.52 303.67L339.63 301.77L339.73 298.26L339.83 292.50L339.93 302.07L340.04 295.67L340.14 298.70L340.24 303.42L340.34 301.25L340.45 301.53L340.55 307.01L340.65 294.66L340.75 309.74L340.86 294.91L340.96 296.16L341.06 302.24L341.17 306.14L341.27 303.01L341.37 298.96L341.47 297.39L341.58 300.04L341.68 295.95L341.78 304.93L341.88 300.34L341.99 310.80L342.09 297.27L342.19 300.81L342.29 304.11L342.40 294.96L342.50 297.69L342.60 318.04L342.70 301.47L342.81 310.14L342.91 295.51L343.01 287.26L343.11 304.71L343.22 301.27L343.32 303.16L343.42 299.67L343.52 297.96L343.63 294.23L343.73 307.43L343.83 292.58L343.93 307.10L344.04 300.09L344.14 294.98L344.24 297.56L344.34 307.14L344.45 305.77L344.55 304.38L344.65 302.00L344.75 295.05L344.86 309.19L344.96 298.99L345.06 298.16L345.16 298.46L345.27 299.00L345.37 292.89L345.47 298.87L345.57 296.73L345.68 298.43L345.78 291.30L345.88 312.72L345.98 294.26L346.09 303.21L346.19 303.33L346.29 307.32L346.39 312.54L346.50 303.91L346.60 305.69L346.70 298.83L346.80 310.24L346.91 293.40L347.01 300.12L347.11 303.14L347.21 305.81L347.32 306.27L347.42 308.25L347.52 304.86L347.62 301.66L347.73 302.73L347.83 309.90L347.93 303.24L348.04 306.88L348.14 300.77L348.24 290.89L348.34 298.07L348.45 303.52L348.55 311.12L348.65 309.91L348.75 311.48L348.86 297.49L348.96 306.14L349.06 301.34L349.16 305.31L349.27 301.17L349.37 293.57L349.47 305.67L349.57 303.68L349.68 306.38L349.78 296.63L349.88 307.65L349.98 308.27L350.09 309.75L350.19 309.87L350.29 298.97L350.39 286.80L350.50 307.47L350.60 296.18L350.70 300.24L350.80 308.09L350.91 303.30L351.01 303.05L351.11 305.71L351.21 290.50L351.32 312.76L351.42 299.49L351.52 299.78L351.62 305.06L351.73 300.83L351.83 296.61L351.93 300.81L352.03 299.28L352.14 297.68L352.24 313.49L352.34 293.13L352.44 288.49L352.55 296.01L352.65 295.82L352.75 309.87L352.85 302.39L352.96 306.41L353.06 305.11L353.16 296.09L353.26 306.36L353.37 302.45L353.47 312.77L353.57 302.62L353.67 301.18L353.78 305.79L353.88 305.88L353.98 290.76L354.08 308.72L354.19 307.79L354.29 306.39L354.39 294.75L354.50 289.51L354.60 299.77L354.70 305.86L354.80 304.18L354.91 295.52L355.01 306.98L355.11 293.27L355.21 293.48L355.32 301.29L355.42 297.95L355.52 297.35L355.62 292.69L355.73 307.80L355.83 294.85L355.93 303.88L356.03 306.15L356.14 301.10L356.24 302.94L356.34 307.43L356.44 310.96L356.55 307.16L356.65 293.28L356.75 290.32L356.85 297.93L356.96 294.82L357.06 304.70L357.16 302.15L357.26 300.06L357.37 307.97L357.47 307.44L357.57 301.14L357.67 303.56L357.78 307.87L357.88 299.46L357.98 303.23L358.08 295.78L358.19 301.73L358.29 303.44L358.39 300.96L358.49 302.70L358.60 305.57L358.70 304.03L358.80 297.35L358.90 297.95L359.01 294.24L359.11 311.52L359.21 303.98L359.31 304.10L359.42 300.70L359.52 304.32L359.62 304.68L359.72 297.17L359.83 300.69L359.93 308.51L360.03 294.03L360.13 296.01L360.24 305.15L360.34 297.03L360.44 306.15L360.54 295.39L360.65 303.22L360.75 306.64L360.85 304.18L360.96 306.49L361.06 300.95L361.16 301.07L361.26 301.89L361.37 305.33L361.47 323.33L361.57 301.54L361.67 313.04L361.78 300.57L361.88 295.35L361.98 300.23L362.08 303.98L362.19 302.65L362.29 302.26L362.39 304.56L362.49 304.64L362.60 306.50L362.70 294.14L362.80 301.03L362.90 295.31L363.01 302.24L363.11 300.32L363.21 301.70L363.31 298.02L363.42 295.92L363.52 299.39L363.62 304.78L363.72 305.53L363.83 291.55L363.93 302.99L364.03 303.27L364.13 293.32L364.24 295.75L364.34 299.22L364.44 304.88L364.54 289.15L364.65 300.75L364.75 300.06L364.85 304.41L364.95 311.77L365.06 311.42L365.16 301.40L365.26 301.52L365.36 305.17L365.47 310.40L365.57 311.65L365.67 304.71L365.77 310.65L365.88 296.26L365.98 293.97L366.08 283.36L366.18 293.73L366.29 301.30L366.39 301.97L366.49 316.02L366.59 298.60L366.70 295.41L366.80 288.11L366.90 289.65L367.00 289.39L367.11 291.33L367.21 288.67L367.31 284.38L367.42 299.69L367.52 297.37L367.62 304.38L367.72 288.92L367.83 293.06L367.93 298.72L368.03 312.68L368.13 307.43L368.24 312.47L368.34 313.21L368.44 317.14L368.54 315.13L368.65 322.19L368.75 316.31L368.85 320.79L368.95 324.35L369.06 323.00L369.16 322.54L369.26 310.84L369.36 310.96L369.47 300.19L369.57 295.93L369.67 293.86L369.77 272.01L369.88 276.44L369.98 260.91L370.08 258.86L370.18 269.52L370.29 266.12L370.39 266.22L370.49 272.36L370.59 280.44L370.70 276.66L370.80 290.85L370.90 296.56L371.00 311.12L371.11 316.81L371.21 332.68L371.31 337.64L371.41 342.37L371.52 353.99L371.62 362.76L371.72 370.56L371.82 365.55L371.93 364.69L372.03 364.87L372.13 360.80L372.23 342.85L372.34 318.52L372.44 318.58L372.54 298.78L372.64 282.06L372.75 283.13L372.85 252.85L372.95 245.09L373.05 223.17L373.16 226.17L373.26 226.34L373.36 224.57L373.46 229.43L373.57 245.91L373.67 259.53L373.77 286.73L373.88 301.52L373.98 317.19L374.08 334.97L374.18 360.42L374.29 376.82L374.39 380.11L374.49 383.70L374.59 378.21L374.70 376.87L374.80 376.38L374.90 364.36L375.00 349.50L375.11 336.41L375.21 323.53L375.31 315.16L375.41 308.65L375.52 286.59L375.62 281.59L375.72 257.97L375.82 245.24L375.93 246.85L376.03 227.55L376.13 223.73L376.23 228.83L376.34 226.20L376.44 237.03L376.54 271.16L376.64 279.71L376.75 297.96L376.85 314.74L376.95 325.39L377.05 344.21L377.16 347.36L377.26 348.51L377.36 346.89L377.46 340.95L377.57 345.74L377.67 342.90L377.77 327.84L377.87 325.33L377.98 316.01L378.08 322.29L378.18 308.99L378.28 301.02L378.39 291.41L378.49 289.45L378.59 275.92L378.69 277.93L378.80 274.85L378.90 273.41L379.00 269.17L379.10 277.25L379.21 270.68L379.31 278.44L379.41 285.08L379.51 291.21L379.62 294.13L379.72 296.75L379.82 302.05L379.92 309.31L380.03 309.13L380.13 314.82L380.23 308.16L380.33 314.65L380.44 324.86L380.54 302.81L380.64 307.29L380.75 311.89L380.85 303.50L380.95 305.04L381.05 285.81L381.16 293.87L381.26 305.40L381.36 293.31L381.46 299.34L381.57 286.79L381.67 305.14L381.77 313.35L381.87 301.27L381.98 304.93L382.08 306.42L382.18 317.23L382.28 302.82L382.39 295.69L382.49 316.27L382.59 297.96L382.69 307.41L382.80 289.72L382.90 300.00L383.00 302.83L383.10 294.66L383.21 297.53L383.31 303.77L383.41 296.19L383.51 303.35L383.62 310.90L383.72 288.94L383.82 302.98L383.92 304.75L384.03 299.52L384.13 310.79L384.23 309.81L384.33 305.04L384.44 305.27L384.54 301.88L384.64 295.78L384.74 305.00L384.85 299.33L384.95 298.62L385.05 308.30L385.15 300.58L385.26 307.26L385.36 295.51L385.46 298.94L385.56 301.41L385.67 309.21L385.77 300.74L385.87 305.85L385.97 297.31L386.08 302.11L386.18 306.16L386.28 296.11L386.38 297.32L386.49 304.99L386.59 294.84L386.69 303.35L386.79 303.44L386.90 300.96L387.00 306.06L387.10 304.26L387.21 302.63L387.31 292.82L387.41 293.00L387.51 303.20L387.62 292.36L387.72 301.95L387.82 299.49L387.92 296.58L388.03 300.01L388.13 287.69L388.23 300.29L388.33 308.65L388.44 294.13L388.54 304.09L388.64 303.46L388.74 319.05L388.85 295.89L388.95 296.95L389.05 297.07L389.15 296.03L389.26 291.89L389.36 301.97L389.46 296.26L389.56 306.01L389.67 303.75L389.77 295.57L389.87 299.43L389.97 309.43L390.08 299.60L390.18 302.76L390.28 306.45L390.38 299.18L390.49 304.05L390.59 310.81L390.69 308.14L390.79 291.44L390.90 310.49L391.00 300.41L391.10 298.16L391.20 297.99L391.31 308.81L391.41 303.56L391.51 300.88L391.61 297.06L391.72 305.44L391.82 308.45L391.92 295.89L392.02 295.29L392.13 299.55L392.23 305.23L392.33 299.34L392.43 301.07L392.54 296.84L392.64 308.94L392.74 301.03L392.84 302.62L392.95 308.14L393.05 300.45L393.15 301.50L393.25 304.08L393.36 299.40L393.46 309.93L393.56 302.01L393.67 299.20L393.77 300.05L393.87 295.46L393.97 308.67L394.08 310.45L394.18 300.31L394.28 299.06L394.38 289.41L394.49 298.12L394.59 306.77L394.69 297.03L394.79 306.60L394.90 310.32L395.00 286.57L395.10 299.81L395.20 297.55L395.31 298.43L395.41 291.19L395.51 300.05L395.61 294.64L395.72 307.66L395.82 309.77L395.92 293.43L396.02 293.15L396.13 298.74L396.23 300.39L396.33 300.74L396.43 305.69L396.54 292.78L396.64 297.88L396.74 298.77L396.84 299.52L396.95 295.62L397.05 298.77L397.15 297.38L397.25 308.48L397.36 298.74L397.46 289.01L397.56 304.71L397.66 302.45L397.77 296.53L397.87 296.15L397.97 298.08L398.07 311.08L398.18 298.79L398.28 308.57L398.38 306.48L398.48 298.52L398.59 303.42L398.69 297.00L398.79 283.44L398.89 297.19L399.00 297.51L399.10 306.90L399.20 305.43L399.30 307.87L399.41 304.79L399.51 308.03L399.61 305.53L399.71 302.91L399.82 307.50L399.92 309.93L400.02 309.60L400.12 299.07L400.23 301.35L400.33 295.75L400.43 295.64L400.54 303.68L400.64 297.81L400.74 310.06L400.84 288.46L400.95 294.77L401.05 302.95L401.15 308.45L401.25 299.50L401.36 312.55L401.46 306.22L401.56 297.36L401.66 301.26L401.77 304.55L401.87 296.19L401.97 307.72L402.07 300.05L402.18 304.59L402.28 306.61L402.38 299.01L402.48 307.46L402.59 290.67L402.69 305.09L402.79 290.16L402.89 308.05L403.00 298.19L403.10 308.66L403.20 309.48L403.30 300.77L403.41 297.77L403.51 309.09L403.61 294.83L403.71 306.33L403.82 300.94L403.92 299.50L404.02 298.25L404.12 312.13L404.23 292.31L404.33 298.44L404.43 304.17L404.53 307.64L404.64 311.53L404.74 309.60L404.84 298.54L404.94 303.68L405.05 308.26L405.15 304.76L405.25 292.63L405.35 303.62L405.46 305.09L405.56 293.87L405.66 299.02L405.76 301.44L405.87 305.23L405.97 310.70L406.07 308.49L406.17 304.49L406.28 302.97L406.38 299.63L406.48 298.50L406.58 300.41L406.69 300.42L406.79 307.54L406.89 314.20L407.00 304.72L407.10 307.23L407.20 305.49L407.30 303.29L407.41 308.91L407.51 308.14L407.61 302.28L407.71 301.03L407.82 305.50L407.92 298.81L408.02 302.97L408.12 307.62L408.23 301.46L408.33 290.78L408.43 305.61L408.53 294.94L408.64 293.71L408.74 293.01L408.84 306.47L408.94 290.01L409.05 301.03L409.15 303.17L409.25 303.04L409.35 298.21L409.46 301.40L409.56 302.73L409.66 294.26L409.76 305.89L409.87 307.75L409.97 297.10L410.07 297.62L410.17 295.35L410.28 307.92L410.38 295.43L410.48 298.90L410.58 291.48L410.69 308.94L410.79 300.43L410.89 303.31L410.99 310.92L411.10 305.85L411.20 295.16L411.30 304.42L411.40 305.89L411.51 296.66L411.61 295.96L411.71 295.98L411.81 306.28L411.92 302.04L412.02 295.72L412.12 305.50L412.22 306.05L412.33 296.90L412.43 292.64L412.53 308.38L412.63 316.77L412.74 310.11L412.84 307.57L412.94 302.50L413.04 298.13L413.15 302.55L413.25 305.76L413.35 300.81L413.46 307.28L413.56 301.97L413.66 305.42L413.76 286.15L413.87 296.96L413.97 306.54L414.07 307.48L414.17 304.24L414.28 311.24L414.38 305.94L414.48 305.98L414.58 296.57L414.69 304.17L414.79 306.29L414.89 309.47L414.99 308.52L415.10 302.08L415.20 302.95L415.30 295.12L415.40 305.35L415.51 295.56L415.61 300.21L415.71 301.73L415.81 313.35L415.92 309.18L416.02 297.40L416.12 293.59L416.22 300.50L416.33 297.28L416.43 304.06L416.53 303.85L416.63 305.55L416.74 296.05L416.84 299.71L416.94 303.06L417.04 303.60L417.15 298.47L417.25 299.83L417.35 306.53L417.45 291.75L417.56 300.21L417.66 301.64L417.76 293.13L417.86 295.76L417.97 302.21L418.07 298.59L418.17 307.91L418.27 305.42L418.38 314.81L418.48 294.62L418.58 312.71L418.68 297.75L418.79 306.52L418.89 307.38L418.99 302.83L419.09 300.15L419.20 298.15L419.30 291.42L419.40 299.62L419.50 296.59L419.61 305.17L419.71 297.56L419.81 300.81L419.92 304.39L420.02 302.26L420.12 302.06L420.22 300.59L420.33 299.37L420.43 304.65L420.53 306.00L420.63 297.36L420.74 311.54L420.84 305.29L420.94 292.69L421.04 317.40L421.15 305.72L421.25 297.71L421.35 311.27L421.45 286.63L421.56 316.71L421.66 293.37L421.76 292.67L421.86 296.39L421.97 302.99L422.07 299.63L422.17 306.90L422.27 297.01L422.38 308.20L422.48 303.29L422.58 295.92L422.68 308.16L422.79 303.81L422.89 300.75L422.99 309.48L423.09 294.95L423.20 299.72L423.30 310.49L423.40 301.97L423.50 306.20L423.61 305.51L423.71 301.25L423.81 305.82L423.91 296.11L424.02 305.79L424.12 296.01L424.22 301.96L424.32 296.74L424.43 304.84L424.53 304.64L424.63 308.39L424.73 298.35L424.84 296.27L424.94 289.41L425.04 294.22L425.14 300.25L425.25 302.92L425.35 299.44L425.45 301.86L425.55 293.21L425.66 296.22L425.76 306.54L425.86 305.67L425.96 293.75L426.07 299.90L426.17 303.03L426.27 294.80L426.38 303.93L426.48 303.31L426.58 304.37L426.68 313.07L426.79 296.69L426.89 308.72L426.99 305.02L427.09 306.04L427.20 297.52L427.30 302.14L427.40 301.65L427.50 311.49L427.61 302.26L427.71 310.31L427.81 299.96L427.91 299.61L428.02 301.82L428.12 289.86L428.22 298.63L428.32 298.22L428.43 300.83L428.53 302.75L428.63 296.01L428.73 295.21L428.84 309.13L428.94 295.46L429.04 298.60L429.14 296.01L429.25 298.89L429.35 308.83L429.45 308.45L429.55 291.10L429.66 300.26L429.76 309.98L429.86 299.79L429.96 303.96L430.07 312.59L430.17 315.22L430.27 311.26L430.37 300.40L430.48 302.26L430.58 303.41L430.68 300.28L430.78 298.40L430.89 314.01L430.99 303.49L431.09 306.46L431.19 308.71L431.30 304.64L431.40 302.08L431.50 302.83L431.60 309.65L431.71 303.97L431.81 289.45L431.91 307.26L432.01 310.96L432.12 299.65L432.22 297.89L432.32 298.78L432.42 308.12L432.53 296.01L432.63 306.53L432.73 308.74L432.83 305.85L432.94 303.11L433.04 298.45L433.14 299.06L433.25 302.84L433.35 297.28L433.45 302.15L433.55 297.29L433.66 310.45L433.76 311.21L433.86 297.31L433.96 309.58L434.07 302.97L434.17 301.49L434.27 303.48L434.37 303.04L434.48 292.15L434.58 314.79L434.68 294.95L434.78 286.81L434.89 300.12L434.99 300.59L435.09 296.56L435.19 290.53L435.30 308.44L435.40 301.48L435.50 303.52L435.60 299.63L435.71 302.35L435.81 299.78L435.91 306.29L436.01 303.71L436.12 307.91L436.22 307.79L436.32 304.54L436.42 304.22L436.53 309.76L436.63 293.34L436.73 302.66L436.83 309.30L436.94 294.29L437.04 304.45L437.14 296.66L437.24 299.29L437.35 297.45L437.45 297.75L437.55 302.07L437.65 298.64L437.76 287.39L437.86 312.59L437.96 299.78L438.06 298.29L438.17 307.62L438.27 310.19L438.37 290.43L438.47 305.77L438.58 292.13L438.68 301.54L438.78 304.51L438.88 302.34L438.99 301.39L439.09 298.03L439.19 301.98L439.29 303.15L439.40 302.34L439.50 294.80L439.60 297.13L439.71 306.89L439.81 304.01L439.91 297.72L440.01 302.68L440.12 300.80L440.22 303.88L440.32 299.74L440.42 295.83L440.53 292.75L440.63 298.87L440.73 287.42L440.83 300.55L440.94 282.30L441.04 295.77L441.14 299.45L441.24 305.93L441.35 320.05L441.45 305.09L441.55 303.54L441.65 293.65L441.76 312.88L441.86 293.73L441.96 305.99L442.06 299.95L442.17 318.39L442.27 302.26L442.37 304.43L442.47 297.82L442.58 300.61L442.68 307.17L442.78 294.53L442.88 295.58L442.99 295.85L443.09 293.30L443.19 292.73L443.29 299.35L443.40 307.32L443.50 307.80L443.60 292.35L443.70 296.53L443.81 300.56L443.91 304.19L444.01 301.97L444.11 302.45L444.22 304.92L444.32 307.32L444.42 290.91L444.52 302.24L444.63 307.08L444.73 311.03L444.83 307.51L444.93 298.88L445.04 298.35L445.14 303.68L445.24 301.76L445.34 303.48L445.45 307.80L445.55 293.53L445.65 298.68L445.75 286.29L445.86 304.92L445.96 301.28L446.06 295.37L446.17 301.99L446.27 308.74L446.37 306.36L446.47 300.47L446.58 299.28L446.68 302.04L446.78 295.88L446.88 296.15L446.99 300.21L447.09 302.06L447.19 303.79L447.29 299.19L447.40 297.07L447.50 302.04L447.60 299.74L447.70 304.15L447.81 310.36L447.91 307.86L448.01 297.49L448.11 299.22L448.22 292.47L448.32 301.26L448.42 296.48L448.52 293.75L448.63 295.60L448.73 304.87L448.83 302.40L448.93 300.59L449.04 307.09L449.14 298.66L449.24 295.53L449.34 304.31L449.45 290.15L449.55 303.34L449.65 302.88L449.75 303.14L449.86 305.91L449.96 299.41L450.06 301.74L450.16 292.23L450.27 298.35L450.37 298.74L450.47 303.13L450.57 310.03L450.68 302.32L450.78 306.71L450.88 296.23L450.98 301.90L451.09 292.03L451.19 297.41L451.29 296.81L451.39 300.31L451.50 300.42L451.60 297.84L451.70 296.28L451.80 305.76L451.91 298.79L452.01 286.45L452.11 302.18L452.21 303.15L452.32 305.70L452.42 310.09L452.52 294.81L452.62 301.36L452.73 299.98L452.83 291.02L452.93 287.17L453.04 306.88L453.14 295.61L453.24 298.11L453.34 299.40L453.45 298.93L453.55 301.84L453.65 292.48L453.75 298.13L453.86 299.69L453.96 294.45L454.06 296.48L454.16 299.01L454.27 299.78L454.37 291.49L454.47 298.72L454.57 302.20L454.68 306.65L454.78 303.67L454.88 307.77L454.98 301.05L455.09 300.19L455.19 313.58L455.29 301.58L455.39 297.92L455.50 300.72L455.60 307.22L455.70 294.33L455.80 305.73L455.91 308.81L456.01 307.96L456.11 301.77L456.21 295.99L456.32 294.93L456.42 300.47L456.52 308.61L456.62 305.50L456.73 306.90L456.83 302.72L456.93 311.98L457.03 301.05L457.14 297.95L457.24 302.56L457.34 299.02L457.44 307.14L457.55 310.13L457.65 305.39L457.75 294.98L457.85 295.72L457.96 304.34L458.06 294.71L458.16 303.58L458.26 292.93L458.37 298.90L458.47 304.32L458.57 297.08L458.67 306.19L458.78 307.12L458.88 310.11L458.98 300.20L459.08 302.01L459.19 302.15L459.29 304.08L459.39 293.36L459.50 304.16L459.60 305.90L459.70 294.47L459.80 293.46L459.91 299.73L460.01 311.79L460.11 305.18L460.21 298.15L460.32 301.60L460.42 292.69L460.52 309.63L460.62 297.77L460.73 305.34L460.83 294.03L460.93 302.14L461.03 295.72L461.14 305.46L461.24 309.88L461.34 308.14L461.44 305.22L461.55 307.64L461.65 294.74L461.75 293.93L461.85 300.12L461.96 307.70L462.06 302.39L462.16 305.68L462.26 293.27L462.37 299.87L462.47 298.86L462.57 304.02L462.67 313.37L462.78 306.17L462.88 308.18L462.98 299.55L463.08 301.14L463.19 306.35L463.29 303.95L463.39 292.61L463.49 307.26L463.60 307.02L463.70 303.02L463.80 305.75L463.90 304.19L464.01 298.62L464.11 291.65L464.21 312.02L464.31 301.81L464.42 301.46L464.52 302.19L464.62 302.79L464.72 303.67L464.83 295.88L464.93 304.40L465.03 302.44L465.13 301.70L465.24 301.08L465.34 302.69L465.44 295.90L465.54 301.75L465.65 300.69L465.75 302.00L465.85 307.52L465.96 306.51L466.06 307.79L466.16 300.58L466.26 305.84L466.37 307.86L466.47 300.32L466.57 298.65L466.67 311.91L466.78 291.90L466.88 301.51L466.98 302.31L467.08 295.51L467.19 301.30L467.29 305.20L467.39 288.97L467.49 307.93L467.60 302.27L467.70 296.79L467.80 307.90L467.90 302.29L468.01 299.46L468.11 287.77L468.21 306.88L468.31 301.98L468.42 297.88L468.52 301.23L468.62 308.68L468.72 299.33L468.83 301.08L468.93 299.12L469.03 295.14L469.13 295.82L469.24 299.33L469.34 299.90L469.44 308.07L469.54 302.48L469.65 300.42L469.75 304.03L469.85 301.13L469.95 306.49L470.06 292.80L470.16 289.22L470.26 303.96L470.36 299.38L470.47 303.06L470.57 294.38L470.67 299.18L470.77 301.25L470.88 303.00L470.98 300.97L471.08 307.50L471.18 297.78L471.29 305.84L471.39 298.60L471.49 300.95L471.59 295.35L471.70 301.80L471.80 295.77L471.90 307.05L472.00 298.17L472.11 303.00L472.21 300.57L472.31 301.28L472.42 296.27L472.52 313.41L472.62 299.83L472.72 310.37L472.83 294.70L472.93 313.14L473.03 307.52L473.13 311.41L473.24 292.19L473.34 309.18L473.44 301.04L473.54 304.81L473.65 312.14L473.75 303.66L473.85 297.86L473.95 302.77L474.06 296.24L474.16 303.80L474.26 301.66L474.36 303.93L474.47 299.71L474.57 290.69L474.67 299.60L474.77 300.57L474.88 305.29L474.98 306.08L475.08 293.21L475.18 308.15L475.29 307.00L475.39 302.27L475.49 304.17L475.59 290.35L475.70 315.42L475.80 299.60L475.90 297.57L476.00 308.20L476.11 305.44L476.21 299.19L476.31 292.25L476.41 307.04L476.52 310.86L476.62 296.06L476.72 292.86L476.82 303.64L476.93 314.54L477.03 293.28L477.13 302.85L477.23 295.18L477.34 301.95L477.44 303.88L477.54 304.32L477.64 293.15L477.75 293.38L477.85 314.10L477.95 307.13L478.05 291.39L478.16 303.83L478.26 309.59L478.36 301.67L478.46 302.33L478.57 302.26L478.67 304.48L478.77 303.50L478.88 304.34L478.98 299.76L479.08 306.41L479.18 303.38L479.29 302.54L479.39 294.13L479.49 299.53L479.59 302.34L479.70 298.59L479.80 299.34L479.90 295.39L480.00 298.76L480.11 291.30L480.21 293.90L480.31 301.94L480.41 304.10L480.52 296.58L480.62 298.70L480.72 302.25L480.82 310.27L480.93 312.33L481.03 299.68L481.13 297.23L481.23 297.04L481.34 309.17L481.44 295.68L481.54 304.80L481.64 299.45L481.75 299.28L481.85 306.35L481.95 305.13L482.05 313.72L482.16 307.02L482.26 312.15L482.36 299.16L482.46 301.34L482.57 296.40L482.67 299.63L482.77 305.38L482.87 299.69L482.98 303.96L483.08 298.17L483.18 299.87L483.28 307.43L483.39 301.68L483.49 301.36L483.59 303.44L483.69 296.44L483.80 291.66L483.90 303.70L484.00 303.56L484.10 314.52L484.21 302.19L484.31 303.94L484.41 313.91L484.51 299.67L484.62 297.89L484.72 305.57L484.82 303.46L484.92 306.91L485.03 296.90L485.13 310.17L485.23 303.25L485.33 290.19L485.44 301.29L485.54 298.97L485.64 302.64L485.75 308.70L485.85 302.17L485.95 299.72L486.05 308.08L486.16 300.23L486.26 295.04L486.36 296.09L486.46 311.48L486.57 307.94L486.67 311.60L486.77 295.96L486.87 298.55L486.98 297.90L487.08 306.95L487.18 308.48L487.28 301.13L487.39 300.85L487.49 306.25L487.59 300.34L487.69 297.31L487.80 299.63L487.90 306.91L488.00 313.08L488.10 302.30L488.21 299.85L488.31 302.35L488.41 303.41L488.51 305.05L488.62 297.03L488.72 301.65L488.82 300.82L488.92 307.38L489.03 305.56L489.13 301.22L489.23 308.21L489.33 309.88L489.44 304.67L489.54 295.95L489.64 301.93L489.74 294.66L489.85 303.95L489.95 305.00L490.05 311.22L490.15 306.34L490.26 294.44L490.36 300.58L490.46 297.90L490.56 297.72L490.67 301.55L490.77 302.42L490.87 300.34L490.97 297.03L491.08 298.27L491.18 298.35L491.28 300.88L491.38 307.04L491.49 305.00L491.59 309.86L491.69 299.37L491.79 317.97L491.90 307.34L492.00 292.21L492.10 307.75L492.21 311.81L492.31 304.57L492.41 296.02L492.51 303.29L492.62 297.54L492.72 299.18L492.82 300.54L492.92 278.75L493.03 295.32L493.13 297.67L493.23 296.37L493.33 290.48L493.44 289.71L493.54 287.23L493.64 290.78L493.74 300.17L493.85 289.50L493.95 295.52L494.05 296.91L494.15 305.71L494.26 302.55L494.36 305.74L494.46 304.15L494.56 314.79L494.67 308.42L494.77 310.19L494.87 319.37L494.97 318.16L495.08 320.80L495.18 311.45L495.28 331.82L495.38 319.07L495.49 325.87L495.59 317.13L495.69 307.39L495.79 313.03L495.90 305.15L496.00 307.07L496.10 286.95L496.20 288.88L496.31 283.75L496.41 294.38L496.51 289.89L496.61 274.62L496.72 280.05L496.82 279.21L496.92 275.36L497.02 285.04L497.13 274.68L497.23 281.34L497.33 281.78L497.43 292.27L497.54 289.83L497.64 301.76L497.74 297.31L497.84 301.59L497.95 308.12L498.05 315.46L498.15 319.46L498.25 342.99L498.36 325.95L498.46 335.12L498.56 334.86L498.67 338.02L498.77 344.32L498.87 337.32L498.97 326.35L499.08 316.15L499.18 320.72L499.28 314.02L499.38 291.39L499.49 295.80L499.59 269.86L499.69 273.59L499.79 272.23L499.90 256.19L500.00 248.72L500.10 265.54L500.20 248.82L500.31 261.85L500.41 255.58L500.51 271.88L500.61 285.58L500.72 281.32L500.82 287.43L500.92 289.67L501.02 300.98L501.13 315.90L501.23 329.75L501.33 339.00L501.43 344.20L501.54 352.48L501.64 352.91L501.74 368.08L501.84 352.50L501.95 351.33L502.05 331.21L502.15 334.19L502.25 331.83L502.36 314.70L502.46 313.07L502.56 297.14L502.66 292.50L502.77 262.35L502.87 257.82L502.97 260.72L503.07 249.35L503.18 241.30L503.28 244.41L503.38 247.76L503.48 259.72L503.59 265.09L503.69 269.11L503.79 273.88L503.89 294.46L504.00 307.07L504.10 304.86L504.20 327.40L504.30 325.42L504.41 338.68L504.51 341.82L504.61 341.80L504.71 350.84L504.82 351.07L504.92 359.33L505.02 354.21L505.12 340.53L505.23 327.63L505.33 319.26L505.43 303.67L505.54 304.51L505.64 294.29L505.74 279.21L505.84 275.44L505.95 267.78L506.05 267.09L506.15 250.90L506.25 260.72L506.36 251.79L506.46 265.87L506.56 256.65L506.66 276.51L506.77 274.87L506.87 299.32L506.97 303.49L507.07 304.77L507.18 326.11L507.28 329.45L507.38 339.06L507.48 353.79L507.59 340.11L507.69 338.20L507.79 343.34L507.89 327.46L508.00 327.39L508.10 319.27L508.20 303.44L508.30 297.54L508.41 271.19L508.51 285.85L508.61 266.89L508.71 262.18L508.82 278.75L508.92 278.77L509.02 268.71L509.12 279.61L509.23 280.74L509.33 283.42L509.43 299.74L509.53 311.33L509.64 328.12L509.74 317.35L509.84 328.91L509.94 325.12L510.05 327.23L510.15 336.43L510.25 316.72L510.35 317.36L510.46 314.46L510.56 321.06L510.66 310.74L510.76 305.48L510.87 298.76L510.97 297.41L511.07 283.72L511.17 281.36L511.28 278.35L511.38 282.63L511.48 273.21L511.58 282.56L511.69 304.10L511.79 297.67L511.89 300.60L512.00 300.89L512.10 313.73L512.20 317.63L512.30 322.49L512.41 315.31L512.51 321.23L512.61 320.92L512.71 319.90L512.82 309.99L512.92 313.52L513.02 317.05L513.12 300.48L513.23 304.90L513.33 295.66L513.43 292.75L513.53 285.54L513.64 284.60L513.74 292.74L513.84 289.80L513.94 296.55L514.05 280.68L514.15 290.18L514.25 287.74L514.35 301.19L514.46 314.81L514.56 297.32L514.66 308.31L514.76 309.80L514.87 310.88L514.97 307.23L515.07 307.15L515.17 318.30L515.28 301.22L515.38 308.76L515.48 306.40L515.58 291.63L515.69 294.35L515.79 299.88L515.89 307.24L515.99 294.47L516.10 291.69L516.20 295.19L516.30 302.36L516.40 300.60L516.51 304.56L516.61 297.59L516.71 295.79L516.81 296.31L516.92 308.07L517.02 303.75L517.12 302.81L517.22 309.43L517.33 307.31L517.43 293.84L517.53 304.43L517.63 299.75L517.74 306.49L517.84 302.70L517.94 311.82L518.04 300.98L518.15 292.96L518.25 286.88L518.35 291.49L518.46 294.05L518.56 297.59L518.66 301.49L518.76 299.29L518.87 295.35L518.97 304.17L519.07 295.03L519.17 307.04L519.28 312.52L519.38 308.87L519.48 313.33L519.58 312.12L519.69 297.88L519.79 305.65L519.89 303.08L519.99 297.33L520.10 296.31L520.20 305.98L520.30 294.73L520.40 299.56L520.51 301.15L520.61 298.05L520.71 308.44L520.81 304.42L520.92 300.34L521.02 296.18L521.12 301.98L521.22 300.74L521.33 294.64L521.43 292.40L521.53 296.50L521.63 293.98L521.74 304.07L521.84 303.88L521.94 300.59L522.04 304.46L522.15 305.87L522.25 293.47L522.35 304.27L522.45 308.68L522.56 300.17L522.66 292.23L522.76 302.26L522.86 295.39L522.97 304.86L523.07 304.93L523.17 305.84L523.27 302.43L523.38 290.72L523.48 307.87L523.58 291.50L523.68 306.70L523.79 302.11L523.89 295.86L523.99 297.05L524.09 299.10L524.20 310.36L524.30 298.79L524.40 306.93L524.50 286.24L524.61 302.53L524.71 300.36L524.81 308.26L524.92 304.55L525.02 309.40L525.12 296.35L525.22 303.67L525.33 298.97L525.43 306.25L525.53 305.21L525.63 294.82L525.74 307.90L525.84 312.67L525.94 299.81L526.04 308.72L526.15 304.56L526.25 296.64L526.35 306.59L526.45 296.65L526.56 305.61L526.66 292.94L526.76 293.83L526.86 304.20L526.97 302.66L527.07 306.23L527.17 300.24L527.27 294.74L527.38 309.81L527.48 296.11L527.58 309.13L527.68 306.47L527.79 311.88L527.89 289.33L527.99 301.23L528.09 300.18L528.20 305.55L528.30 295.46L528.40 313.87L528.50 301.53L528.61 288.90L528.71 303.92L528.81 301.60L528.91 297.80L529.02 306.41L529.12 301.57L529.22 296.13L529.32 300.57L529.43 299.55L529.53 303.73L529.63 299.87L529.73 301.38L529.84 293.26L529.94 297.50L530.04 303.11L530.14 315.89L530.25 297.55L530.35 297.32L530.45 307.02L530.55 313.29L530.66 308.32L530.76 296.33L530.86 307.88L530.96 304.37L531.07 300.42L531.17 294.60L531.27 301.81L531.38 302.28L531.48 304.88L531.58 292.24L531.68 295.52L531.79 302.25L531.89 309.80L531.99 306.28L532.09 298.34L532.20 305.88L532.30 296.52L532.40 299.60L532.50 300.00L532.61 297.91L532.71 298.81L532.81 306.66L532.91 303.59L533.02 288.13L533.12 308.71L533.22 304.45L533.32 295.52L533.43 302.62L533.53 306.41L533.63 309.37L533.73 298.59L533.84 295.78L533.94 293.58L534.04 301.39L534.14 295.64L534.25 307.69L534.35 300.73L534.45 305.63L534.55 300.69L534.66 297.35L534.76 295.50L534.86 307.44L534.96 294.35L535.07 304.45L535.17 307.65L535.27 302.69L535.37 310.18L535.48 301.67L535.58 300.02L535.68 302.86L535.78 298.59L535.89 303.53L535.99 301.68L536.09 310.06L536.19 301.45L536.30 306.64L536.40 304.31L536.50 302.24L536.60 300.59L536.71 311.25L536.81 310.77L536.91 303.45L537.01 298.95L537.12 299.61L537.22 296.52L537.32 294.15L537.42 298.82L537.53 301.82L537.63 307.68L537.73 307.19L537.83 304.41L537.94 300.15L538.04 300.42L538.14 301.68L538.25 302.59L538.35 298.04L538.45 300.49L538.55 299.97L538.66 299.91L538.76 304.87L538.86 307.68L538.96 298.85L539.07 299.28L539.17 302.98L539.27 304.11L539.37 288.49L539.48 306.10L539.58 302.96L539.68 300.16L539.78 308.39L539.89 301.02L539.99 291.27L540.09 296.28L540.19 298.03L540.30 298.26L540.40 301.05L540.50 296.14L540.60 302.60L540.71 304.15L540.81 301.11L540.91 296.45L541.01 299.78L541.12 297.79L541.22 313.44L541.32 294.78L541.42 288.12L541.53 293.96L541.63 303.54L541.73 306.62L541.83 300.09L541.94 307.42L542.04 297.49L542.14 304.75L542.24 296.13L542.35 293.80L542.45 313.49L542.55 300.00L542.65 305.75L542.76 309.88L542.86 305.28L542.96 302.97L543.06 295.70L543.17 310.52L543.27 295.61L543.37 290.00L543.47 298.23L543.58 298.53L543.68 301.78L543.78 308.52L543.88 298.60L543.99 299.47L544.09 297.46L544.19 286.80L544.29 297.48L544.40 299.23" fill="none" stroke="#2f8bd0" stroke-width="0.72" opacity="0.9" stroke-linecap="round" stroke-dasharray="0 1.9"/><path d="M334.5 301.7H544.5" stroke="rgba(214,96,42,0.65)" stroke-width="0.9"/><path d="M429.66 301.70L429.76 301.71L429.86 301.72L429.96 301.74L430.07 301.75L430.17 301.76L430.27 301.77L430.37 301.78L430.48 301.78L430.58 301.78L430.68 301.78L430.78 301.77L430.89 301.75L430.99 301.73L431.09 301.70L431.19 301.67L431.30 301.63L431.40 301.60L431.50 301.56L431.60 301.53L431.71 301.50L431.81 301.48L431.91 301.47L432.01 301.47L432.12 301.49L432.22 301.52L432.32 301.56L432.42 301.62L432.53 301.69L432.63 301.77L432.73 301.86L432.83 301.95L432.94 302.04L433.04 302.12L433.14 302.19L433.25 302.23L433.35 302.25L433.45 302.24L433.55 302.21L433.66 302.13L433.76 302.03L433.86 301.89L433.96 301.73L434.07 301.55L434.17 301.36L434.27 301.17L434.37 300.99L434.48 300.83L434.58 300.70L434.68 300.61L434.78 300.57L434.89 300.60L434.99 300.68L435.09 300.83L435.19 301.04L435.30 301.30L435.40 301.60L435.50 301.94L435.60 302.29L435.71 302.63L435.81 302.96L435.91 303.23L436.01 303.45L436.12 303.59L436.22 303.64L436.32 303.59L436.42 303.44L436.53 303.18L436.63 302.83L436.73 302.40L436.83 301.91L436.94 301.38L437.04 300.83L437.14 300.30L437.24 299.82L437.35 299.41L437.45 299.11L437.55 298.92L437.65 298.87L437.76 298.96L437.86 299.20L437.96 299.57L438.06 300.07L438.17 300.67L438.27 301.35L438.37 302.06L438.47 302.78L438.58 303.46L438.68 304.08L438.78 304.58L438.88 304.95L438.99 305.17L439.09 305.21L439.19 305.07L439.29 304.76L439.40 304.29L439.50 303.68L439.60 302.97L439.71 302.18L439.81 301.37L439.91 300.56L440.01 299.81L440.12 299.15L440.22 298.62L440.32 298.25L440.42 298.05L440.53 298.03L440.63 298.19L440.73 298.54L440.83 299.03L440.94 299.66L441.04 300.38L441.14 301.15L441.24 301.94L441.35 302.71L441.45 303.41L441.55 304.01L441.65 304.48L441.76 304.80L441.86 304.96L441.96 304.96L442.06 304.79L442.17 304.47L442.27 304.03L442.37 303.48L442.47 302.87L442.58 302.22L442.68 301.57L442.78 300.95L442.88 300.40L442.99 299.93L443.09 299.57L443.19 299.34L443.29 299.23L443.40 299.26L443.50 299.40L443.60 299.65L443.70 299.98L443.81 300.39L443.91 300.83L444.01 301.29L444.11 301.75L444.22 302.17L444.32 302.54L444.42 302.85L444.52 303.08L444.63 303.22L444.73 303.28L444.83 303.25L444.93 303.15L445.04 302.99L445.14 302.77L445.24 302.52L445.34 302.25L445.45 301.97L445.55 301.70L445.65 301.45L445.75 301.24L445.86 301.07L445.96 300.95L446.06 300.87L446.17 300.84L446.27 300.86L446.37 300.92L446.47 301.01L446.58 301.13L446.68 301.27L446.78 301.41L446.88 301.55L446.99 301.69L447.09 301.81L447.19 301.91L447.29 301.99L447.40 302.05L447.50 302.08L447.60 302.09L447.70 302.08L447.81 302.05L447.91 302.01L448.01 301.95L448.11 301.89L448.22 301.83L448.32 301.77L448.42 301.71L448.52 301.66L448.63 301.62L448.73 301.58L448.83 301.56L448.93 301.55L449.04 301.55L449.14 301.55L449.24 301.56L449.34 301.58L449.45 301.60L449.55 301.63L449.65 301.65L449.75 301.67L449.86 301.69L449.96 301.71L450.06 301.73L450.16 301.74L450.27 301.75L450.37 301.75L450.47 301.75" fill="none" stroke="#E0601E" stroke-width="0.85"/></g>
<rect x="334.5" y="226.0" width="210.00" height="154.40" fill="none" stroke="#939393" stroke-width="1.25"/>
<path d="M334.50 380.4V378.29999999999995M334.50 226.0V228.1" stroke="#939393" stroke-width="0.8"/>
<text x="334.50" y="394.20" text-anchor="middle" font-size="10" fill="#1e1e1e" stroke="#1e1e1e" stroke-width="0.18">0</text>
<path d="M385.77 380.4V378.29999999999995M385.77 226.0V228.1" stroke="#939393" stroke-width="0.8"/>
<text x="385.77" y="394.20" text-anchor="middle" font-size="10" fill="#1e1e1e" stroke="#1e1e1e" stroke-width="0.18">0.1</text>
<path d="M437.04 380.4V378.29999999999995M437.04 226.0V228.1" stroke="#939393" stroke-width="0.8"/>
<text x="437.04" y="394.20" text-anchor="middle" font-size="10" fill="#1e1e1e" stroke="#1e1e1e" stroke-width="0.18">0.2</text>
<path d="M488.31 380.4V378.29999999999995M488.31 226.0V228.1" stroke="#939393" stroke-width="0.8"/>
<text x="488.31" y="394.20" text-anchor="middle" font-size="10" fill="#1e1e1e" stroke="#1e1e1e" stroke-width="0.18">0.3</text>
<path d="M539.58 380.4V378.29999999999995M539.58 226.0V228.1" stroke="#939393" stroke-width="0.8"/>
<text x="539.58" y="394.20" text-anchor="middle" font-size="10" fill="#1e1e1e" stroke="#1e1e1e" stroke-width="0.18">0.4</text>
<path d="M334.5 343.60H336.6M544.5 343.60H542.4" stroke="#939393" stroke-width="0.8"/>
<text x="330.90" y="347.70" text-anchor="end" font-size="10" fill="#1e1e1e" stroke="#1e1e1e" stroke-width="0.18">-0.05</text>
<path d="M334.5 301.70H336.6M544.5 301.70H542.4" stroke="#939393" stroke-width="0.8"/>
<text x="330.90" y="305.80" text-anchor="end" font-size="10" fill="#1e1e1e" stroke="#1e1e1e" stroke-width="0.18">0</text>
<path d="M334.5 259.80H336.6M544.5 259.80H542.4" stroke="#939393" stroke-width="0.8"/>
<text x="330.90" y="263.90" text-anchor="end" font-size="10" fill="#1e1e1e" stroke="#1e1e1e" stroke-width="0.18">0.05</text>
<text x="439.50" y="405.10" text-anchor="middle" font-size="11" fill="#333" stroke="#333" stroke-width="0.12">Time(ms)</text>
<text transform="translate(304.90 302.65) rotate(-90)" text-anchor="middle" font-size="11" fill="#333" stroke="#333" stroke-width="0.12">Amplitude(mv)</text>
<rect x="490.6" y="226.0" width="53.90" height="22.40" fill="#fff" stroke="#939393" stroke-width="1.1"/>
<path d="M492.40000000000003 231.50H507.20000000000005" stroke="#5fa3dc" stroke-width="0.9" stroke-linecap="round" stroke-dasharray="0 1.4"/>
<path d="M492.20000000000005 242.20H507.20000000000005" stroke="#E8743E" stroke-width="1.0"/>
<text x="509.10" y="235.10" font-size="9.2" fill="#111" stroke="#111" stroke-width="0.15">Original</text>
<text x="509.10" y="245.80" font-size="9.2" fill="#111" stroke="#111" stroke-width="0.15">Atom 16</text>
<text x="140.6" y="206.0" text-anchor="middle" font-size="14" fill="#111">(<tspan font-weight="bold">a</tspan>)</text>
<text x="432.4" y="206.1" text-anchor="middle" font-size="14" fill="#111">(<tspan font-weight="bold">b</tspan>)</text>
<text x="141.2" y="425.6" text-anchor="middle" font-size="14" fill="#111">(<tspan font-weight="bold">c</tspan>)</text>
<text x="432.2" y="425.6" text-anchor="middle" font-size="14" fill="#111">(<tspan font-weight="bold">d</tspan>)</text>
</svg>
</body></html>
